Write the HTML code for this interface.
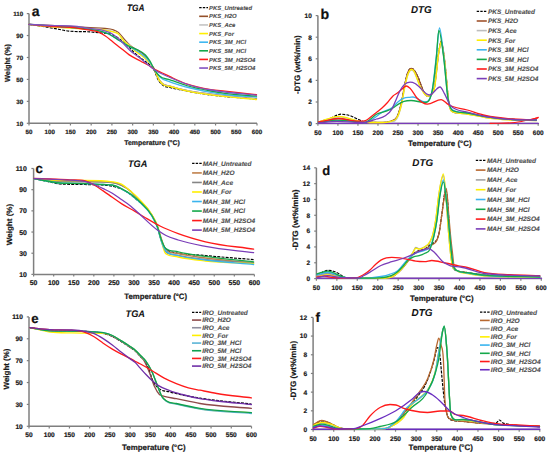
<!DOCTYPE html><html><head><meta charset="utf-8"><style>html,body{margin:0;padding:0;background:#fff;width:550px;height:455px;overflow:hidden}svg{display:block}text{text-rendering:geometricPrecision}</style></head><body>
<svg width="550" height="455" viewBox="0 0 550 455" font-family='"Liberation Sans", sans-serif'>
<rect width="550" height="455" fill="#fff"/>
<line x1="29.00" y1="13.60" x2="29.00" y2="123.30" stroke="#7f7f7f" stroke-width="1.5"/>
<line x1="29.00" y1="123.30" x2="257.00" y2="123.30" stroke="#7f7f7f" stroke-width="1.5"/>
<line x1="26.80" y1="13.60" x2="29.00" y2="13.60" stroke="#7f7f7f" stroke-width="1.2"/>
<line x1="26.80" y1="35.54" x2="29.00" y2="35.54" stroke="#7f7f7f" stroke-width="1.2"/>
<line x1="26.80" y1="57.48" x2="29.00" y2="57.48" stroke="#7f7f7f" stroke-width="1.2"/>
<line x1="26.80" y1="79.42" x2="29.00" y2="79.42" stroke="#7f7f7f" stroke-width="1.2"/>
<line x1="26.80" y1="101.36" x2="29.00" y2="101.36" stroke="#7f7f7f" stroke-width="1.2"/>
<line x1="26.80" y1="123.30" x2="29.00" y2="123.30" stroke="#7f7f7f" stroke-width="1.2"/>
<line x1="29.00" y1="123.30" x2="29.00" y2="125.50" stroke="#7f7f7f" stroke-width="1.2"/>
<line x1="49.73" y1="123.30" x2="49.73" y2="125.50" stroke="#7f7f7f" stroke-width="1.2"/>
<line x1="70.45" y1="123.30" x2="70.45" y2="125.50" stroke="#7f7f7f" stroke-width="1.2"/>
<line x1="91.18" y1="123.30" x2="91.18" y2="125.50" stroke="#7f7f7f" stroke-width="1.2"/>
<line x1="111.91" y1="123.30" x2="111.91" y2="125.50" stroke="#7f7f7f" stroke-width="1.2"/>
<line x1="132.64" y1="123.30" x2="132.64" y2="125.50" stroke="#7f7f7f" stroke-width="1.2"/>
<line x1="153.36" y1="123.30" x2="153.36" y2="125.50" stroke="#7f7f7f" stroke-width="1.2"/>
<line x1="174.09" y1="123.30" x2="174.09" y2="125.50" stroke="#7f7f7f" stroke-width="1.2"/>
<line x1="194.82" y1="123.30" x2="194.82" y2="125.50" stroke="#7f7f7f" stroke-width="1.2"/>
<line x1="215.55" y1="123.30" x2="215.55" y2="125.50" stroke="#7f7f7f" stroke-width="1.2"/>
<line x1="236.27" y1="123.30" x2="236.27" y2="125.50" stroke="#7f7f7f" stroke-width="1.2"/>
<line x1="257.00" y1="123.30" x2="257.00" y2="125.50" stroke="#7f7f7f" stroke-width="1.2"/>
<text x="23.20" y="15.83" font-size="6.2" font-weight="bold" font-style="normal" text-anchor="end" fill="#1a1a1a" stroke="#1a1a1a" stroke-width="0.2">110</text>
<text x="23.20" y="37.77" font-size="6.2" font-weight="bold" font-style="normal" text-anchor="end" fill="#1a1a1a" stroke="#1a1a1a" stroke-width="0.2">90</text>
<text x="23.20" y="59.71" font-size="6.2" font-weight="bold" font-style="normal" text-anchor="end" fill="#1a1a1a" stroke="#1a1a1a" stroke-width="0.2">70</text>
<text x="23.20" y="81.65" font-size="6.2" font-weight="bold" font-style="normal" text-anchor="end" fill="#1a1a1a" stroke="#1a1a1a" stroke-width="0.2">50</text>
<text x="23.20" y="103.59" font-size="6.2" font-weight="bold" font-style="normal" text-anchor="end" fill="#1a1a1a" stroke="#1a1a1a" stroke-width="0.2">30</text>
<text x="23.20" y="125.53" font-size="6.2" font-weight="bold" font-style="normal" text-anchor="end" fill="#1a1a1a" stroke="#1a1a1a" stroke-width="0.2">10</text>
<text x="29.00" y="133.83" font-size="6.2" font-weight="bold" font-style="normal" text-anchor="middle" fill="#1a1a1a" stroke="#1a1a1a" stroke-width="0.2">50</text>
<text x="49.73" y="133.83" font-size="6.2" font-weight="bold" font-style="normal" text-anchor="middle" fill="#1a1a1a" stroke="#1a1a1a" stroke-width="0.2">100</text>
<text x="70.45" y="133.83" font-size="6.2" font-weight="bold" font-style="normal" text-anchor="middle" fill="#1a1a1a" stroke="#1a1a1a" stroke-width="0.2">150</text>
<text x="91.18" y="133.83" font-size="6.2" font-weight="bold" font-style="normal" text-anchor="middle" fill="#1a1a1a" stroke="#1a1a1a" stroke-width="0.2">200</text>
<text x="111.91" y="133.83" font-size="6.2" font-weight="bold" font-style="normal" text-anchor="middle" fill="#1a1a1a" stroke="#1a1a1a" stroke-width="0.2">250</text>
<text x="132.64" y="133.83" font-size="6.2" font-weight="bold" font-style="normal" text-anchor="middle" fill="#1a1a1a" stroke="#1a1a1a" stroke-width="0.2">300</text>
<text x="153.36" y="133.83" font-size="6.2" font-weight="bold" font-style="normal" text-anchor="middle" fill="#1a1a1a" stroke="#1a1a1a" stroke-width="0.2">350</text>
<text x="174.09" y="133.83" font-size="6.2" font-weight="bold" font-style="normal" text-anchor="middle" fill="#1a1a1a" stroke="#1a1a1a" stroke-width="0.2">400</text>
<text x="194.82" y="133.83" font-size="6.2" font-weight="bold" font-style="normal" text-anchor="middle" fill="#1a1a1a" stroke="#1a1a1a" stroke-width="0.2">450</text>
<text x="215.55" y="133.83" font-size="6.2" font-weight="bold" font-style="normal" text-anchor="middle" fill="#1a1a1a" stroke="#1a1a1a" stroke-width="0.2">500</text>
<text x="236.27" y="133.83" font-size="6.2" font-weight="bold" font-style="normal" text-anchor="middle" fill="#1a1a1a" stroke="#1a1a1a" stroke-width="0.2">550</text>
<text x="257.00" y="133.83" font-size="6.2" font-weight="bold" font-style="normal" text-anchor="middle" fill="#1a1a1a" stroke="#1a1a1a" stroke-width="0.2">600</text>
<text x="9.90" y="63.00" font-size="7.4" font-weight="bold" font-style="normal" text-anchor="middle" fill="#1a1a1a" stroke="#1a1a1a" stroke-width="0.2" transform="rotate(-90 9.90 63.00)">Weight (%)</text>
<text x="152.00" y="145.30" font-size="6.9" font-weight="bold" font-style="normal" text-anchor="middle" fill="#1a1a1a" stroke="#1a1a1a" stroke-width="0.2">Temperature (°C)</text>
<text x="135.65" y="11.30" font-size="9.3" font-weight="bold" font-style="italic" text-anchor="middle" fill="#111" stroke="#111" stroke-width="0.05" textLength="17.5" lengthAdjust="spacingAndGlyphs">TGA</text>
<text x="31.80" y="15.80" font-size="14" font-weight="bold" font-style="normal" text-anchor="start" fill="#111" stroke="#111" stroke-width="0.2">a</text>
<line x1="199.20" y1="7.70" x2="208.00" y2="7.70" stroke="#000" stroke-width="1.3" stroke-dasharray="2.4 1.2"/>
<text x="209.10" y="9.82" font-size="5.9" font-weight="bold" font-style="italic" text-anchor="start" fill="#4d4d4d" stroke="#4d4d4d" stroke-width="0.1">PKS_Untreated</text>
<line x1="199.20" y1="16.32" x2="208.00" y2="16.32" stroke="#94502a" stroke-width="1.6"/>
<text x="209.10" y="18.44" font-size="5.9" font-weight="bold" font-style="italic" text-anchor="start" fill="#4d4d4d" stroke="#4d4d4d" stroke-width="0.1">PKS_H2O</text>
<line x1="199.20" y1="24.94" x2="208.00" y2="24.94" stroke="#c4c4c4" stroke-width="1.6"/>
<text x="209.10" y="27.06" font-size="5.9" font-weight="bold" font-style="italic" text-anchor="start" fill="#4d4d4d" stroke="#4d4d4d" stroke-width="0.1">PKS_Ace</text>
<line x1="199.20" y1="33.56" x2="208.00" y2="33.56" stroke="#ffef00" stroke-width="1.6"/>
<text x="209.10" y="35.68" font-size="5.9" font-weight="bold" font-style="italic" text-anchor="start" fill="#4d4d4d" stroke="#4d4d4d" stroke-width="0.1">PKS_For</text>
<line x1="199.20" y1="42.18" x2="208.00" y2="42.18" stroke="#40b8f0" stroke-width="1.6"/>
<text x="209.10" y="44.30" font-size="5.9" font-weight="bold" font-style="italic" text-anchor="start" fill="#4d4d4d" stroke="#4d4d4d" stroke-width="0.1">PKS_3M_HCl</text>
<line x1="199.20" y1="50.80" x2="208.00" y2="50.80" stroke="#14a84a" stroke-width="1.6"/>
<text x="209.10" y="52.92" font-size="5.9" font-weight="bold" font-style="italic" text-anchor="start" fill="#4d4d4d" stroke="#4d4d4d" stroke-width="0.1">PKS_5M_HCl</text>
<line x1="199.20" y1="59.42" x2="208.00" y2="59.42" stroke="#ff1a1a" stroke-width="1.6"/>
<text x="209.10" y="61.54" font-size="5.9" font-weight="bold" font-style="italic" text-anchor="start" fill="#4d4d4d" stroke="#4d4d4d" stroke-width="0.1">PKS_3M_H2SO4</text>
<line x1="199.20" y1="68.04" x2="208.00" y2="68.04" stroke="#8050c0" stroke-width="1.6"/>
<text x="209.10" y="70.16" font-size="5.9" font-weight="bold" font-style="italic" text-anchor="start" fill="#4d4d4d" stroke="#4d4d4d" stroke-width="0.1">PKS_5M_H2SO4</text>
<path d="M29.00 24.40 C32.67 24.93 36.33 25.43 40.00 26.00 C44.17 26.65 48.33 27.37 52.50 28.10 C57.97 29.05 63.43 30.48 68.90 31.10 C75.93 31.90 82.97 31.33 90.00 31.90 C93.00 32.14 96.00 32.45 99.00 32.80 C103.47 33.32 107.93 32.80 112.40 34.70 C114.90 35.76 117.40 37.39 119.90 39.20 C123.27 41.64 126.63 44.75 130.00 48.20 C131.03 49.26 132.07 50.45 133.10 51.50 C136.67 55.11 140.23 57.52 143.80 60.40 C146.37 62.48 148.93 63.14 151.50 66.50 C152.53 67.85 153.57 69.15 154.60 71.20 C155.63 73.25 156.67 76.72 157.70 78.80 C159.73 82.89 161.77 84.35 163.80 85.80 C165.87 87.28 167.93 86.97 170.00 87.50 C175.47 88.91 180.93 89.94 186.40 91.00 C194.57 92.58 202.73 93.87 210.90 95.00 C226.10 97.10 241.30 97.80 256.50 99.20" fill="none" stroke="#000" stroke-width="1.2" stroke-linejoin="round" stroke-linecap="butt" stroke-dasharray="3 1.2"/>
<path d="M29.00 24.40 C39.33 24.93 49.67 25.46 60.00 26.00 C70.00 26.52 80.00 27.07 90.00 27.60 C95.00 27.87 100.00 27.81 105.00 28.40 C107.47 28.69 109.93 28.65 112.40 29.50 C114.40 30.19 116.40 30.82 118.40 32.50 C120.13 33.96 121.87 36.49 123.60 38.40 C125.73 40.75 127.87 43.32 130.00 45.20 C132.07 47.03 134.13 48.16 136.20 49.60 C139.27 51.73 142.33 52.19 145.40 55.80 C147.43 58.19 149.47 61.88 151.50 65.00 C152.53 66.59 153.57 67.75 154.60 69.80 C155.63 71.85 156.67 75.25 157.70 77.30 C159.23 80.35 160.77 82.02 162.30 83.50 C164.87 85.98 167.43 85.21 170.00 86.00 C175.47 87.69 180.93 89.27 186.40 90.50 C194.57 92.34 202.73 93.12 210.90 94.20 C226.10 96.22 241.30 97.20 256.50 98.70" fill="none" stroke="#94502a" stroke-width="1.3" stroke-linejoin="round" stroke-linecap="round"/>
<path d="M29.00 24.40 C34.13 24.93 39.27 25.52 44.40 26.00 C55.30 27.02 66.20 27.61 77.10 28.30 C86.40 28.89 95.70 28.30 105.00 29.90 C107.47 30.32 109.93 30.65 112.40 31.40 C114.40 32.00 116.40 31.98 118.40 33.70 C120.13 35.19 121.87 38.42 123.60 40.30 C125.73 42.62 127.87 43.81 130.00 45.80 C131.03 46.76 132.07 47.85 133.10 48.80 C136.67 52.09 140.23 53.70 143.80 57.00 C146.37 59.37 148.93 61.40 151.50 65.00 C152.53 66.45 153.57 67.92 154.60 69.80 C156.13 72.59 157.67 77.53 159.20 80.00 C160.73 82.47 162.27 83.55 163.80 84.60 C165.87 86.01 167.93 85.66 170.00 86.20 C175.47 87.62 180.93 89.28 186.40 90.50 C194.57 92.32 202.73 93.34 210.90 94.50 C226.10 96.66 241.30 97.63 256.50 99.20" fill="none" stroke="#c4c4c4" stroke-width="1.3" stroke-linejoin="round" stroke-linecap="round"/>
<path d="M29.00 24.40 C34.13 25.00 39.27 25.67 44.40 26.20 C55.30 27.32 66.20 27.89 77.10 28.60 C86.40 29.20 95.70 28.60 105.00 30.20 C107.47 30.62 109.93 30.95 112.40 31.70 C114.40 32.30 116.40 32.26 118.40 34.00 C120.13 35.50 121.87 38.80 123.60 40.70 C125.73 43.04 127.87 44.21 130.00 46.20 C131.03 47.16 132.07 48.25 133.10 49.20 C136.67 52.48 140.23 54.10 143.80 57.30 C146.37 59.61 148.93 61.43 151.50 65.00 C152.53 66.44 153.57 67.89 154.60 69.80 C156.13 72.64 157.67 77.87 159.20 80.40 C160.73 82.93 162.27 83.96 163.80 85.00 C165.87 86.40 167.93 85.99 170.00 86.50 C175.47 87.85 180.93 89.58 186.40 90.80 C194.57 92.62 202.73 93.64 210.90 94.80 C226.10 96.96 241.30 97.93 256.50 99.50" fill="none" stroke="#ffef00" stroke-width="1.3" stroke-linejoin="round" stroke-linecap="round"/>
<path d="M29.00 24.40 C39.33 25.10 49.67 25.63 60.00 26.50 C70.00 27.34 80.00 28.06 90.00 29.50 C93.73 30.04 97.47 30.25 101.20 31.30 C103.70 32.00 106.20 32.84 108.70 34.00 C112.43 35.73 116.17 38.62 119.90 40.90 C123.27 42.95 126.63 44.97 130.00 47.00 C133.60 49.17 137.20 50.71 140.80 53.50 C143.37 55.49 145.93 57.18 148.50 60.40 C150.53 62.95 152.57 66.89 154.60 69.80 C156.40 72.38 158.20 75.13 160.00 77.00 C163.33 80.46 166.67 80.49 170.00 81.90 C175.47 84.21 180.93 85.51 186.40 87.00 C194.57 89.23 202.73 90.81 210.90 92.30 C215.60 93.16 220.30 93.96 225.00 94.60 C235.50 96.04 246.00 96.27 256.50 97.10" fill="none" stroke="#40b8f0" stroke-width="1.3" stroke-linejoin="round" stroke-linecap="round"/>
<path d="M29.00 24.40 C39.33 25.10 49.67 25.63 60.00 26.50 C70.00 27.34 80.00 28.06 90.00 29.50 C93.73 30.04 97.47 30.25 101.20 31.30 C103.70 32.00 106.20 32.86 108.70 34.00 C112.43 35.70 116.17 38.47 119.90 40.70 C123.27 42.71 126.63 45.07 130.00 46.70 C132.57 47.95 135.13 48.42 137.70 49.80 C140.27 51.18 142.83 52.19 145.40 55.00 C146.93 56.68 148.47 58.73 150.00 61.20 C151.53 63.67 153.07 67.37 154.60 69.80 C156.13 72.23 157.67 74.23 159.20 75.80 C162.80 79.49 166.40 78.50 170.00 79.80 C175.47 81.78 180.93 83.87 186.40 85.50 C194.57 87.94 202.73 89.48 210.90 91.00 C215.60 91.87 220.30 92.64 225.00 93.30 C235.50 94.77 246.00 95.17 256.50 96.10" fill="none" stroke="#14a84a" stroke-width="1.3" stroke-linejoin="round" stroke-linecap="round"/>
<path d="M29.00 24.40 C36.00 25.03 43.00 25.74 50.00 26.30 C59.03 27.02 68.07 26.91 77.10 28.10 C81.40 28.67 85.70 29.40 90.00 30.20 C92.50 30.67 95.00 30.77 97.50 31.70 C100.00 32.63 102.50 34.17 105.00 35.80 C107.47 37.41 109.93 39.48 112.40 41.40 C114.90 43.35 117.40 45.40 119.90 47.40 C122.90 49.80 125.90 52.52 128.90 54.60 C132.87 57.35 136.83 59.05 140.80 61.20 C143.37 62.59 145.93 63.76 148.50 65.30 C150.53 66.52 152.57 68.12 154.60 69.30 C157.17 70.78 159.73 71.77 162.30 73.00 C164.87 74.23 167.43 75.50 170.00 76.70 C175.47 79.25 180.93 81.95 186.40 83.90 C194.57 86.81 202.73 88.32 210.90 89.60 C215.60 90.34 220.30 90.67 225.00 91.20 C235.50 92.37 246.00 93.47 256.50 94.60" fill="none" stroke="#ff1a1a" stroke-width="1.3" stroke-linejoin="round" stroke-linecap="round"/>
<path d="M29.00 24.40 C36.00 24.77 43.00 25.19 50.00 25.50 C59.03 25.90 68.07 25.50 77.10 26.40 C81.40 26.83 85.70 27.80 90.00 28.40 C93.73 28.92 97.47 28.87 101.20 29.80 C104.93 30.73 108.67 31.65 112.40 34.00 C114.90 35.57 117.40 37.76 119.90 40.00 C123.27 43.02 126.63 47.34 130.00 50.40 C133.60 53.67 137.20 55.94 140.80 58.80 C143.37 60.84 145.93 62.96 148.50 65.00 C150.53 66.62 152.57 68.37 154.60 69.80 C159.73 73.42 164.87 75.19 170.00 77.50 C175.47 79.96 180.93 82.17 186.40 84.00 C194.57 86.74 202.73 88.53 210.90 90.00 C215.60 90.84 220.30 91.39 225.00 92.00 C235.50 93.36 246.00 94.13 256.50 95.20" fill="none" stroke="#8050c0" stroke-width="1.3" stroke-linejoin="round" stroke-linecap="round"/>
<line x1="317.90" y1="15.60" x2="317.90" y2="123.60" stroke="#7f7f7f" stroke-width="1.5"/>
<line x1="317.90" y1="123.60" x2="538.20" y2="123.60" stroke="#7f7f7f" stroke-width="1.5"/>
<line x1="315.70" y1="15.60" x2="317.90" y2="15.60" stroke="#7f7f7f" stroke-width="1.2"/>
<line x1="315.70" y1="37.20" x2="317.90" y2="37.20" stroke="#7f7f7f" stroke-width="1.2"/>
<line x1="315.70" y1="58.80" x2="317.90" y2="58.80" stroke="#7f7f7f" stroke-width="1.2"/>
<line x1="315.70" y1="80.40" x2="317.90" y2="80.40" stroke="#7f7f7f" stroke-width="1.2"/>
<line x1="315.70" y1="102.00" x2="317.90" y2="102.00" stroke="#7f7f7f" stroke-width="1.2"/>
<line x1="315.70" y1="123.60" x2="317.90" y2="123.60" stroke="#7f7f7f" stroke-width="1.2"/>
<line x1="317.90" y1="123.60" x2="317.90" y2="125.80" stroke="#7f7f7f" stroke-width="1.2"/>
<line x1="337.93" y1="123.60" x2="337.93" y2="125.80" stroke="#7f7f7f" stroke-width="1.2"/>
<line x1="357.95" y1="123.60" x2="357.95" y2="125.80" stroke="#7f7f7f" stroke-width="1.2"/>
<line x1="377.98" y1="123.60" x2="377.98" y2="125.80" stroke="#7f7f7f" stroke-width="1.2"/>
<line x1="398.01" y1="123.60" x2="398.01" y2="125.80" stroke="#7f7f7f" stroke-width="1.2"/>
<line x1="418.04" y1="123.60" x2="418.04" y2="125.80" stroke="#7f7f7f" stroke-width="1.2"/>
<line x1="438.06" y1="123.60" x2="438.06" y2="125.80" stroke="#7f7f7f" stroke-width="1.2"/>
<line x1="458.09" y1="123.60" x2="458.09" y2="125.80" stroke="#7f7f7f" stroke-width="1.2"/>
<line x1="478.12" y1="123.60" x2="478.12" y2="125.80" stroke="#7f7f7f" stroke-width="1.2"/>
<line x1="498.15" y1="123.60" x2="498.15" y2="125.80" stroke="#7f7f7f" stroke-width="1.2"/>
<line x1="518.17" y1="123.60" x2="518.17" y2="125.80" stroke="#7f7f7f" stroke-width="1.2"/>
<line x1="538.20" y1="123.60" x2="538.20" y2="125.80" stroke="#7f7f7f" stroke-width="1.2"/>
<text x="311.80" y="17.94" font-size="6.5" font-weight="bold" font-style="normal" text-anchor="end" fill="#1a1a1a" stroke="#1a1a1a" stroke-width="0.2">10</text>
<text x="311.80" y="39.54" font-size="6.5" font-weight="bold" font-style="normal" text-anchor="end" fill="#1a1a1a" stroke="#1a1a1a" stroke-width="0.2">8</text>
<text x="311.80" y="61.14" font-size="6.5" font-weight="bold" font-style="normal" text-anchor="end" fill="#1a1a1a" stroke="#1a1a1a" stroke-width="0.2">6</text>
<text x="311.80" y="82.74" font-size="6.5" font-weight="bold" font-style="normal" text-anchor="end" fill="#1a1a1a" stroke="#1a1a1a" stroke-width="0.2">4</text>
<text x="311.80" y="104.34" font-size="6.5" font-weight="bold" font-style="normal" text-anchor="end" fill="#1a1a1a" stroke="#1a1a1a" stroke-width="0.2">2</text>
<text x="311.80" y="125.94" font-size="6.5" font-weight="bold" font-style="normal" text-anchor="end" fill="#1a1a1a" stroke="#1a1a1a" stroke-width="0.2">0</text>
<text x="317.90" y="135.34" font-size="6.5" font-weight="bold" font-style="normal" text-anchor="middle" fill="#1a1a1a" stroke="#1a1a1a" stroke-width="0.2">50</text>
<text x="337.93" y="135.34" font-size="6.5" font-weight="bold" font-style="normal" text-anchor="middle" fill="#1a1a1a" stroke="#1a1a1a" stroke-width="0.2">100</text>
<text x="357.95" y="135.34" font-size="6.5" font-weight="bold" font-style="normal" text-anchor="middle" fill="#1a1a1a" stroke="#1a1a1a" stroke-width="0.2">150</text>
<text x="377.98" y="135.34" font-size="6.5" font-weight="bold" font-style="normal" text-anchor="middle" fill="#1a1a1a" stroke="#1a1a1a" stroke-width="0.2">200</text>
<text x="398.01" y="135.34" font-size="6.5" font-weight="bold" font-style="normal" text-anchor="middle" fill="#1a1a1a" stroke="#1a1a1a" stroke-width="0.2">250</text>
<text x="418.04" y="135.34" font-size="6.5" font-weight="bold" font-style="normal" text-anchor="middle" fill="#1a1a1a" stroke="#1a1a1a" stroke-width="0.2">300</text>
<text x="438.06" y="135.34" font-size="6.5" font-weight="bold" font-style="normal" text-anchor="middle" fill="#1a1a1a" stroke="#1a1a1a" stroke-width="0.2">350</text>
<text x="458.09" y="135.34" font-size="6.5" font-weight="bold" font-style="normal" text-anchor="middle" fill="#1a1a1a" stroke="#1a1a1a" stroke-width="0.2">400</text>
<text x="478.12" y="135.34" font-size="6.5" font-weight="bold" font-style="normal" text-anchor="middle" fill="#1a1a1a" stroke="#1a1a1a" stroke-width="0.2">450</text>
<text x="498.15" y="135.34" font-size="6.5" font-weight="bold" font-style="normal" text-anchor="middle" fill="#1a1a1a" stroke="#1a1a1a" stroke-width="0.2">500</text>
<text x="518.17" y="135.34" font-size="6.5" font-weight="bold" font-style="normal" text-anchor="middle" fill="#1a1a1a" stroke="#1a1a1a" stroke-width="0.2">550</text>
<text x="538.20" y="135.34" font-size="6.5" font-weight="bold" font-style="normal" text-anchor="middle" fill="#1a1a1a" stroke="#1a1a1a" stroke-width="0.2">600</text>
<text x="299.90" y="64.70" font-size="7.9" font-weight="bold" font-style="normal" text-anchor="middle" fill="#1a1a1a" stroke="#1a1a1a" stroke-width="0.2" transform="rotate(-90 299.90 64.70)" textLength="58.7" lengthAdjust="spacingAndGlyphs">-DTG (wt%/min)</text>
<text x="439.80" y="146.10" font-size="7.9" font-weight="bold" font-style="normal" text-anchor="middle" fill="#1a1a1a" stroke="#1a1a1a" stroke-width="0.2">Temperature (°C)</text>
<text x="421.30" y="12.80" font-size="10" font-weight="bold" font-style="italic" text-anchor="middle" fill="#111" stroke="#111" stroke-width="0.05" textLength="20.6" lengthAdjust="spacingAndGlyphs">DTG</text>
<text x="320.50" y="18.90" font-size="14.2" font-weight="bold" font-style="normal" text-anchor="start" fill="#111" stroke="#111" stroke-width="0.2">b</text>
<line x1="476.70" y1="11.40" x2="486.80" y2="11.40" stroke="#000" stroke-width="1.3" stroke-dasharray="2.4 1.2"/>
<text x="488.00" y="13.72" font-size="6.45" font-weight="bold" font-style="italic" text-anchor="start" fill="#4d4d4d" stroke="#4d4d4d" stroke-width="0.1">PKS_Untreated</text>
<line x1="476.70" y1="21.00" x2="486.80" y2="21.00" stroke="#a0522d" stroke-width="1.6"/>
<text x="488.00" y="23.32" font-size="6.45" font-weight="bold" font-style="italic" text-anchor="start" fill="#4d4d4d" stroke="#4d4d4d" stroke-width="0.1">PKS_H2O</text>
<line x1="476.70" y1="30.60" x2="486.80" y2="30.60" stroke="#bdbdbd" stroke-width="1.6"/>
<text x="488.00" y="32.92" font-size="6.45" font-weight="bold" font-style="italic" text-anchor="start" fill="#4d4d4d" stroke="#4d4d4d" stroke-width="0.1">PKS_Ace</text>
<line x1="476.70" y1="40.20" x2="486.80" y2="40.20" stroke="#ffef00" stroke-width="1.6"/>
<text x="488.00" y="42.52" font-size="6.45" font-weight="bold" font-style="italic" text-anchor="start" fill="#4d4d4d" stroke="#4d4d4d" stroke-width="0.1">PKS_For</text>
<line x1="476.70" y1="49.80" x2="486.80" y2="49.80" stroke="#3ab4ee" stroke-width="1.6"/>
<text x="488.00" y="52.12" font-size="6.45" font-weight="bold" font-style="italic" text-anchor="start" fill="#4d4d4d" stroke="#4d4d4d" stroke-width="0.1">PKS_3M_HCl</text>
<line x1="476.70" y1="59.40" x2="486.80" y2="59.40" stroke="#14a84a" stroke-width="1.6"/>
<text x="488.00" y="61.72" font-size="6.45" font-weight="bold" font-style="italic" text-anchor="start" fill="#4d4d4d" stroke="#4d4d4d" stroke-width="0.1">PKS_5M_HCl</text>
<line x1="476.70" y1="69.00" x2="486.80" y2="69.00" stroke="#ff1a1a" stroke-width="1.6"/>
<text x="488.00" y="71.32" font-size="6.45" font-weight="bold" font-style="italic" text-anchor="start" fill="#4d4d4d" stroke="#4d4d4d" stroke-width="0.1">PKS_3M_H2SO4</text>
<line x1="476.70" y1="78.60" x2="486.80" y2="78.60" stroke="#7a3db8" stroke-width="1.6"/>
<text x="488.00" y="80.92" font-size="6.45" font-weight="bold" font-style="italic" text-anchor="start" fill="#4d4d4d" stroke="#4d4d4d" stroke-width="0.1">PKS_5M_H2SO4</text>
<path d="M318.50 123.40 C391.80 123.40 465.10 123.40 538.40 123.40" fill="none" stroke="#7a3db8" stroke-width="1.4" stroke-linejoin="round" stroke-linecap="round"/>
<path d="M490.00 123.40 C498.33 123.10 506.67 123.40 515.00 122.50 C522.67 121.67 530.33 119.37 538.00 117.80" fill="none" stroke="#ff1a1a" stroke-width="1.2" stroke-linejoin="round" stroke-linecap="round"/>
<path d="M318.50 122.00 C322.00 121.00 325.50 120.19 329.00 119.00 C333.00 117.64 337.00 114.20 341.00 114.20 C344.33 114.20 347.67 114.84 351.00 116.00 C353.53 116.88 356.07 118.54 358.60 119.60 C360.73 120.50 362.87 121.79 365.00 122.00 C370.00 122.50 375.00 122.50 380.00 122.50 C383.67 122.50 387.33 122.50 391.00 121.00 C393.50 119.98 396.00 120.84 398.50 113.50 C399.60 110.27 400.70 106.24 401.80 101.00 C402.70 96.72 403.60 90.39 404.50 86.00 C405.67 80.31 406.83 74.90 408.00 72.00 C409.10 69.26 410.20 68.50 411.30 68.50 C411.87 68.50 412.43 68.63 413.00 69.00 C414.33 69.87 415.67 72.61 417.00 75.00 C419.67 79.78 422.33 90.60 425.00 94.00 C425.77 94.98 426.53 96.20 427.30 96.20 C429.53 96.20 431.77 96.20 434.00 89.00 C435.60 83.84 437.20 60.56 438.80 52.00 C439.60 47.72 440.40 42.00 441.20 42.00 C442.33 42.00 443.47 53.06 444.60 61.50 C446.07 72.42 447.53 95.85 449.00 104.00 C450.23 110.85 451.47 111.34 452.70 111.80 C457.57 113.60 462.43 112.87 467.30 113.60 C473.37 114.50 479.43 116.01 485.50 116.90 C494.57 118.23 503.63 118.99 512.70 119.50 C520.60 119.94 528.50 119.83 536.40 120.00" fill="none" stroke="#000" stroke-width="1.2" stroke-linejoin="round" stroke-linecap="butt" stroke-dasharray="3 1.2"/>
<path d="M318.50 122.00 C325.00 120.83 331.50 118.50 338.00 118.50 C343.00 118.50 348.00 119.78 353.00 120.50 C356.33 120.98 359.67 121.71 363.00 122.00 C368.67 122.50 374.33 122.50 380.00 122.50 C383.67 122.50 387.33 122.50 391.00 121.00 C393.50 119.98 396.00 120.84 398.50 113.50 C399.60 110.27 400.70 106.24 401.80 101.00 C402.70 96.72 403.60 90.39 404.50 86.00 C405.67 80.31 406.83 74.90 408.00 72.00 C409.10 69.26 410.20 68.50 411.30 68.50 C411.87 68.50 412.43 68.63 413.00 69.00 C414.33 69.87 415.67 72.61 417.00 75.00 C419.67 79.78 422.33 90.60 425.00 94.00 C425.77 94.98 426.53 96.20 427.30 96.20 C429.53 96.20 431.77 96.20 434.00 89.00 C435.60 83.84 437.20 61.00 438.80 52.00 C439.60 47.50 440.40 41.00 441.20 41.00 C442.33 41.00 443.47 51.49 444.60 60.00 C446.07 71.02 447.53 95.62 449.00 104.00 C450.23 111.05 451.47 111.34 452.70 111.80 C457.57 113.60 462.43 112.87 467.30 113.60 C473.37 114.50 479.43 116.01 485.50 116.90 C494.57 118.23 503.63 118.99 512.70 119.50 C520.60 119.94 528.50 119.83 536.40 120.00" fill="none" stroke="#a0522d" stroke-width="1.3" stroke-linejoin="round" stroke-linecap="round"/>
<path d="M318.50 122.00 C325.33 120.27 332.17 116.80 339.00 116.80 C343.73 116.80 348.47 118.76 353.20 119.80 C356.47 120.52 359.73 121.71 363.00 122.00 C368.67 122.50 374.33 122.50 380.00 122.50 C383.67 122.50 387.33 122.50 391.00 121.90 C393.50 121.49 396.00 121.90 398.50 115.20 C399.60 112.25 400.70 108.70 401.80 103.60 C402.70 99.43 403.60 92.99 404.50 88.60 C405.67 82.91 406.83 77.68 408.00 74.60 C409.17 71.52 410.33 70.10 411.50 70.10 C412.00 70.10 412.50 70.27 413.00 70.60 C415.47 72.20 417.93 82.66 420.40 87.00 C422.70 91.05 425.00 96.20 427.30 96.20 C429.60 96.20 431.90 96.20 434.20 89.20 C435.73 84.53 437.27 61.34 438.80 53.00 C439.60 48.65 440.40 43.00 441.20 43.00 C442.33 43.00 443.47 53.86 444.60 62.00 C446.13 73.02 447.67 97.07 449.20 105.00 C450.37 111.04 451.53 111.52 452.70 112.00 C457.57 114.00 462.43 113.21 467.30 114.00 C473.37 114.98 479.43 116.58 485.50 117.50 C494.57 118.88 503.63 119.51 512.70 120.00 C520.60 120.43 528.50 120.33 536.40 120.50" fill="none" stroke="#bdbdbd" stroke-width="1.3" stroke-linejoin="round" stroke-linecap="round"/>
<path d="M318.50 122.00 C325.33 120.13 332.17 116.40 339.00 116.40 C343.73 116.40 348.47 118.48 353.20 119.60 C356.47 120.37 359.73 121.71 363.00 122.00 C368.67 122.50 374.33 122.50 380.00 122.50 C383.67 122.50 387.33 122.50 391.00 121.30 C393.50 120.48 396.00 121.30 398.50 114.60 C399.60 111.65 400.70 108.10 401.80 103.00 C402.70 98.83 403.60 92.39 404.50 88.00 C405.67 82.31 406.83 77.08 408.00 74.00 C409.17 70.92 410.33 69.50 411.50 69.50 C412.00 69.50 412.50 69.67 413.00 70.00 C415.47 71.64 417.93 82.56 420.40 87.00 C422.70 91.14 425.00 96.20 427.30 96.20 C429.60 96.20 431.90 96.20 434.20 89.20 C435.73 84.53 437.27 60.84 438.80 52.30 C439.60 47.84 440.40 42.00 441.20 42.00 C442.33 42.00 443.47 53.17 444.60 61.50 C446.13 72.78 447.67 97.43 449.20 105.40 C450.37 111.46 451.53 111.52 452.70 112.00 C457.57 114.00 462.43 113.21 467.30 114.00 C473.37 114.98 479.43 116.58 485.50 117.50 C494.57 118.88 503.63 119.51 512.70 120.00 C520.60 120.43 528.50 120.33 536.40 120.50" fill="none" stroke="#ffef00" stroke-width="1.3" stroke-linejoin="round" stroke-linecap="round"/>
<path d="M318.50 122.50 C324.67 121.83 330.83 120.50 337.00 120.50 C343.00 120.50 349.00 121.00 355.00 121.50 C358.33 121.78 361.67 122.50 365.00 122.50 C367.00 122.50 369.00 121.03 371.00 120.00 C374.67 118.12 378.33 114.58 382.00 112.40 C385.67 110.22 389.33 109.96 393.00 106.90 C394.83 105.37 396.67 102.87 398.50 101.40 C400.33 99.93 402.17 98.79 404.00 98.10 C406.00 97.35 408.00 97.52 410.00 97.30 C411.00 97.19 412.00 97.00 413.00 97.00 C417.00 97.00 421.00 102.00 425.00 102.00 C427.33 102.00 429.67 102.00 432.00 91.50 C433.50 84.75 435.00 67.50 436.50 54.60 C437.50 46.00 438.50 28.00 439.50 28.00 C440.83 28.00 442.17 43.78 443.50 54.60 C445.00 66.77 446.50 89.23 448.00 98.50 C449.57 108.18 451.13 109.03 452.70 110.00 C457.57 113.00 462.43 112.03 467.30 113.00 C473.37 114.21 479.43 115.53 485.50 116.50 C494.57 117.95 503.63 118.93 512.70 119.50 C520.60 119.99 528.50 119.83 536.40 120.00" fill="none" stroke="#3ab4ee" stroke-width="1.3" stroke-linejoin="round" stroke-linecap="round"/>
<path d="M318.50 122.50 C324.67 121.73 330.83 120.20 337.00 120.20 C343.00 120.20 349.00 120.96 355.00 121.50 C358.33 121.80 361.67 122.50 365.00 122.50 C366.67 122.50 368.33 120.64 370.00 119.50 C372.17 118.01 374.33 115.65 376.50 114.30 C380.17 112.01 383.83 112.30 387.50 110.70 C389.33 109.90 391.17 109.10 393.00 108.00 C394.83 106.90 396.67 105.20 398.50 104.10 C400.33 103.00 402.17 102.01 404.00 101.40 C406.33 100.63 408.67 100.50 411.00 100.50 C415.67 100.50 420.33 102.50 425.00 102.50 C427.33 102.50 429.67 102.50 432.00 91.50 C433.50 84.43 435.00 71.05 436.50 56.00 C437.27 48.31 438.03 30.40 438.80 30.40 C440.37 30.40 441.93 44.27 443.50 56.00 C445.00 67.23 446.50 89.39 448.00 98.50 C449.57 108.02 451.13 109.70 452.70 110.50 C457.57 113.00 462.43 112.12 467.30 113.00 C473.37 114.10 479.43 115.53 485.50 116.50 C494.57 117.95 503.63 118.93 512.70 119.50 C520.60 119.99 528.50 119.83 536.40 120.00" fill="none" stroke="#14a84a" stroke-width="1.3" stroke-linejoin="round" stroke-linecap="round"/>
<path d="M318.50 122.00 C322.67 121.20 326.83 120.31 331.00 119.60 C333.33 119.20 335.67 118.50 338.00 118.50 C343.00 118.50 348.00 120.22 353.00 120.70 C355.33 120.92 357.67 121.20 360.00 121.20 C361.83 121.20 363.67 121.20 365.50 120.60 C367.33 120.00 369.17 118.17 371.00 116.80 C372.83 115.43 374.67 113.87 376.50 112.40 C378.33 110.93 380.17 109.65 382.00 108.00 C383.83 106.35 385.67 104.52 387.50 102.50 C389.33 100.48 391.17 97.53 393.00 95.90 C394.47 94.60 395.93 94.20 397.40 93.10 C398.87 92.00 400.33 90.48 401.80 89.30 C403.27 88.12 404.73 86.00 406.20 86.00 C407.47 86.00 408.73 87.10 410.00 88.20 C412.33 90.22 414.67 95.49 417.00 98.00 C420.43 101.70 423.87 104.20 427.30 104.20 C431.93 104.20 436.57 99.60 441.20 99.60 C443.53 99.60 445.87 103.12 448.20 104.50 C454.57 108.25 460.93 108.12 467.30 110.00 C473.37 111.79 479.43 114.09 485.50 115.50 C494.57 117.61 503.63 118.29 512.70 119.00 C518.47 119.45 524.23 119.80 530.00 119.80 C532.73 119.80 535.47 118.13 538.20 117.30" fill="none" stroke="#ff1a1a" stroke-width="1.3" stroke-linejoin="round" stroke-linecap="round"/>
<path d="M318.50 123.00 C324.67 122.43 330.83 121.30 337.00 121.30 C344.67 121.30 352.33 122.50 360.00 122.50 C361.83 122.50 363.67 122.50 365.50 122.30 C369.17 121.90 372.83 120.25 376.50 119.00 C379.43 118.00 382.37 117.85 385.30 115.70 C387.50 114.09 389.70 112.95 391.90 109.10 C393.37 106.53 394.83 102.57 396.30 99.20 C397.40 96.67 398.50 93.67 399.60 91.50 C401.07 88.60 402.53 86.46 404.00 84.90 C406.00 82.77 408.00 82.10 410.00 82.10 C411.67 82.10 413.33 82.53 415.00 83.50 C416.00 84.08 417.00 85.03 418.00 85.80 C421.87 88.79 425.73 95.00 429.60 95.00 C433.07 95.00 436.53 87.00 440.00 87.00 C441.53 87.00 443.07 91.18 444.60 93.80 C446.53 97.10 448.47 103.13 450.40 105.40 C456.03 112.00 461.67 110.19 467.30 112.00 C473.37 113.95 479.43 115.33 485.50 116.50 C494.57 118.24 503.63 118.93 512.70 119.50 C520.60 119.99 528.50 119.83 536.40 120.00" fill="none" stroke="#7a3db8" stroke-width="1.3" stroke-linejoin="round" stroke-linecap="round"/>
<line x1="33.60" y1="168.50" x2="33.60" y2="274.40" stroke="#7f7f7f" stroke-width="1.5"/>
<line x1="33.60" y1="274.40" x2="254.40" y2="274.40" stroke="#7f7f7f" stroke-width="1.5"/>
<line x1="31.40" y1="168.50" x2="33.60" y2="168.50" stroke="#7f7f7f" stroke-width="1.2"/>
<line x1="31.40" y1="189.68" x2="33.60" y2="189.68" stroke="#7f7f7f" stroke-width="1.2"/>
<line x1="31.40" y1="210.86" x2="33.60" y2="210.86" stroke="#7f7f7f" stroke-width="1.2"/>
<line x1="31.40" y1="232.04" x2="33.60" y2="232.04" stroke="#7f7f7f" stroke-width="1.2"/>
<line x1="31.40" y1="253.22" x2="33.60" y2="253.22" stroke="#7f7f7f" stroke-width="1.2"/>
<line x1="31.40" y1="274.40" x2="33.60" y2="274.40" stroke="#7f7f7f" stroke-width="1.2"/>
<line x1="33.60" y1="274.40" x2="33.60" y2="276.60" stroke="#7f7f7f" stroke-width="1.2"/>
<line x1="53.67" y1="274.40" x2="53.67" y2="276.60" stroke="#7f7f7f" stroke-width="1.2"/>
<line x1="73.75" y1="274.40" x2="73.75" y2="276.60" stroke="#7f7f7f" stroke-width="1.2"/>
<line x1="93.82" y1="274.40" x2="93.82" y2="276.60" stroke="#7f7f7f" stroke-width="1.2"/>
<line x1="113.89" y1="274.40" x2="113.89" y2="276.60" stroke="#7f7f7f" stroke-width="1.2"/>
<line x1="133.96" y1="274.40" x2="133.96" y2="276.60" stroke="#7f7f7f" stroke-width="1.2"/>
<line x1="154.04" y1="274.40" x2="154.04" y2="276.60" stroke="#7f7f7f" stroke-width="1.2"/>
<line x1="174.11" y1="274.40" x2="174.11" y2="276.60" stroke="#7f7f7f" stroke-width="1.2"/>
<line x1="194.18" y1="274.40" x2="194.18" y2="276.60" stroke="#7f7f7f" stroke-width="1.2"/>
<line x1="214.25" y1="274.40" x2="214.25" y2="276.60" stroke="#7f7f7f" stroke-width="1.2"/>
<line x1="234.33" y1="274.40" x2="234.33" y2="276.60" stroke="#7f7f7f" stroke-width="1.2"/>
<line x1="254.40" y1="274.40" x2="254.40" y2="276.60" stroke="#7f7f7f" stroke-width="1.2"/>
<text x="26.80" y="170.98" font-size="6.9" font-weight="bold" font-style="normal" text-anchor="end" fill="#1a1a1a" stroke="#1a1a1a" stroke-width="0.2">110</text>
<text x="26.80" y="192.16" font-size="6.9" font-weight="bold" font-style="normal" text-anchor="end" fill="#1a1a1a" stroke="#1a1a1a" stroke-width="0.2">90</text>
<text x="26.80" y="213.34" font-size="6.9" font-weight="bold" font-style="normal" text-anchor="end" fill="#1a1a1a" stroke="#1a1a1a" stroke-width="0.2">70</text>
<text x="26.80" y="234.52" font-size="6.9" font-weight="bold" font-style="normal" text-anchor="end" fill="#1a1a1a" stroke="#1a1a1a" stroke-width="0.2">50</text>
<text x="26.80" y="255.70" font-size="6.9" font-weight="bold" font-style="normal" text-anchor="end" fill="#1a1a1a" stroke="#1a1a1a" stroke-width="0.2">30</text>
<text x="26.80" y="276.88" font-size="6.9" font-weight="bold" font-style="normal" text-anchor="end" fill="#1a1a1a" stroke="#1a1a1a" stroke-width="0.2">10</text>
<text x="33.60" y="285.48" font-size="6.9" font-weight="bold" font-style="normal" text-anchor="middle" fill="#1a1a1a" stroke="#1a1a1a" stroke-width="0.2">50</text>
<text x="53.67" y="285.48" font-size="6.9" font-weight="bold" font-style="normal" text-anchor="middle" fill="#1a1a1a" stroke="#1a1a1a" stroke-width="0.2">100</text>
<text x="73.75" y="285.48" font-size="6.9" font-weight="bold" font-style="normal" text-anchor="middle" fill="#1a1a1a" stroke="#1a1a1a" stroke-width="0.2">150</text>
<text x="93.82" y="285.48" font-size="6.9" font-weight="bold" font-style="normal" text-anchor="middle" fill="#1a1a1a" stroke="#1a1a1a" stroke-width="0.2">200</text>
<text x="113.89" y="285.48" font-size="6.9" font-weight="bold" font-style="normal" text-anchor="middle" fill="#1a1a1a" stroke="#1a1a1a" stroke-width="0.2">250</text>
<text x="133.96" y="285.48" font-size="6.9" font-weight="bold" font-style="normal" text-anchor="middle" fill="#1a1a1a" stroke="#1a1a1a" stroke-width="0.2">300</text>
<text x="154.04" y="285.48" font-size="6.9" font-weight="bold" font-style="normal" text-anchor="middle" fill="#1a1a1a" stroke="#1a1a1a" stroke-width="0.2">350</text>
<text x="174.11" y="285.48" font-size="6.9" font-weight="bold" font-style="normal" text-anchor="middle" fill="#1a1a1a" stroke="#1a1a1a" stroke-width="0.2">400</text>
<text x="194.18" y="285.48" font-size="6.9" font-weight="bold" font-style="normal" text-anchor="middle" fill="#1a1a1a" stroke="#1a1a1a" stroke-width="0.2">450</text>
<text x="214.25" y="285.48" font-size="6.9" font-weight="bold" font-style="normal" text-anchor="middle" fill="#1a1a1a" stroke="#1a1a1a" stroke-width="0.2">500</text>
<text x="234.33" y="285.48" font-size="6.9" font-weight="bold" font-style="normal" text-anchor="middle" fill="#1a1a1a" stroke="#1a1a1a" stroke-width="0.2">550</text>
<text x="254.40" y="285.48" font-size="6.9" font-weight="bold" font-style="normal" text-anchor="middle" fill="#1a1a1a" stroke="#1a1a1a" stroke-width="0.2">600</text>
<text x="11.60" y="224.50" font-size="7.6" font-weight="bold" font-style="normal" text-anchor="middle" fill="#1a1a1a" stroke="#1a1a1a" stroke-width="0.2" transform="rotate(-90 11.60 224.50)" textLength="41.3" lengthAdjust="spacingAndGlyphs">Weight (%)</text>
<text x="155.70" y="299.30" font-size="7.8" font-weight="bold" font-style="normal" text-anchor="middle" fill="#1a1a1a" stroke="#1a1a1a" stroke-width="0.2">Temperature (°C)</text>
<text x="137.65" y="166.60" font-size="9.6" font-weight="bold" font-style="italic" text-anchor="middle" fill="#111" stroke="#111" stroke-width="0.05" textLength="19.3" lengthAdjust="spacingAndGlyphs">TGA</text>
<text x="35.50" y="173.30" font-size="13.3" font-weight="bold" font-style="normal" text-anchor="start" fill="#111" stroke="#111" stroke-width="0.2">c</text>
<line x1="192.10" y1="163.40" x2="201.80" y2="163.40" stroke="#000" stroke-width="1.3" stroke-dasharray="2.4 1.2"/>
<text x="202.70" y="165.74" font-size="6.5" font-weight="bold" font-style="italic" text-anchor="start" fill="#4d4d4d" stroke="#4d4d4d" stroke-width="0.1">MAH_Untreated</text>
<line x1="192.10" y1="172.93" x2="201.80" y2="172.93" stroke="#c0804a" stroke-width="1.6"/>
<text x="202.70" y="175.27" font-size="6.5" font-weight="bold" font-style="italic" text-anchor="start" fill="#4d4d4d" stroke="#4d4d4d" stroke-width="0.1">MAH_H2O</text>
<line x1="192.10" y1="182.46" x2="201.80" y2="182.46" stroke="#858585" stroke-width="1.6"/>
<text x="202.70" y="184.80" font-size="6.5" font-weight="bold" font-style="italic" text-anchor="start" fill="#4d4d4d" stroke="#4d4d4d" stroke-width="0.1">MAH_Ace</text>
<line x1="192.10" y1="191.99" x2="201.80" y2="191.99" stroke="#ffef00" stroke-width="1.6"/>
<text x="202.70" y="194.33" font-size="6.5" font-weight="bold" font-style="italic" text-anchor="start" fill="#4d4d4d" stroke="#4d4d4d" stroke-width="0.1">MAH_For</text>
<line x1="192.10" y1="201.52" x2="201.80" y2="201.52" stroke="#3ab4ee" stroke-width="1.6"/>
<text x="202.70" y="203.86" font-size="6.5" font-weight="bold" font-style="italic" text-anchor="start" fill="#4d4d4d" stroke="#4d4d4d" stroke-width="0.1">MAH_3M_HCl</text>
<line x1="192.10" y1="211.05" x2="201.80" y2="211.05" stroke="#14a84a" stroke-width="1.6"/>
<text x="202.70" y="213.39" font-size="6.5" font-weight="bold" font-style="italic" text-anchor="start" fill="#4d4d4d" stroke="#4d4d4d" stroke-width="0.1">MAH_5M_HCl</text>
<line x1="192.10" y1="220.58" x2="201.80" y2="220.58" stroke="#ff1a1a" stroke-width="1.6"/>
<text x="202.70" y="222.92" font-size="6.5" font-weight="bold" font-style="italic" text-anchor="start" fill="#4d4d4d" stroke="#4d4d4d" stroke-width="0.1">MAH_3M_H2SO4</text>
<line x1="192.10" y1="230.11" x2="201.80" y2="230.11" stroke="#7a3db8" stroke-width="1.6"/>
<text x="202.70" y="232.45" font-size="6.5" font-weight="bold" font-style="italic" text-anchor="start" fill="#4d4d4d" stroke="#4d4d4d" stroke-width="0.1">MAH_5M_H2SO4</text>
<path d="M34.00 178.60 C39.33 179.73 44.67 180.91 50.00 182.00 C53.33 182.68 56.67 183.80 60.00 184.00 C68.33 184.50 76.67 184.23 85.00 184.50 C92.57 184.75 100.13 184.50 107.70 185.50 C112.27 186.10 116.83 186.88 121.40 189.00 C124.43 190.41 127.47 192.26 130.50 194.50 C132.33 195.85 134.17 197.39 136.00 199.00 C141.27 203.62 146.53 206.28 151.80 215.50 C153.67 218.77 155.53 221.24 157.40 226.70 C158.63 230.31 159.87 236.27 161.10 239.80 C162.67 244.28 164.23 247.41 165.80 249.20 C166.87 250.42 167.93 250.61 169.00 251.00 C181.17 255.50 193.33 254.20 205.50 255.50 C221.53 257.21 237.57 258.23 253.60 259.60" fill="none" stroke="#000" stroke-width="1.2" stroke-linejoin="round" stroke-linecap="butt" stroke-dasharray="3 1.2"/>
<path d="M34.00 178.60 C42.67 179.50 51.33 180.99 60.00 181.30 C68.33 181.60 76.67 181.42 85.00 181.60 C94.10 181.80 103.20 181.60 112.30 182.50 C115.33 182.80 118.37 183.78 121.40 185.20 C124.43 186.62 127.47 188.11 130.50 191.00 C132.00 192.43 133.50 194.41 135.00 196.00 C136.67 197.76 138.33 199.24 140.00 201.00 C143.93 205.15 147.87 208.26 151.80 215.00 C153.67 218.20 155.53 221.06 157.40 226.00 C158.87 229.88 160.33 235.93 161.80 240.00 C163.37 244.35 164.93 250.00 166.50 251.00 C170.40 253.50 174.30 252.72 178.20 253.50 C187.30 255.31 196.40 256.72 205.50 258.00 C221.53 260.25 237.57 261.13 253.60 262.70" fill="none" stroke="#c0804a" stroke-width="1.3" stroke-linejoin="round" stroke-linecap="round"/>
<path d="M34.00 178.60 C42.67 179.57 51.33 181.19 60.00 181.50 C68.33 181.80 76.67 181.62 85.00 181.80 C94.10 182.00 103.20 181.80 112.30 182.70 C115.33 183.00 118.37 184.05 121.40 185.50 C124.43 186.95 127.47 188.49 130.50 191.40 C132.00 192.84 133.50 194.87 135.00 196.40 C136.67 198.10 138.33 199.33 140.00 201.00 C143.93 204.93 147.87 208.02 151.80 215.00 C153.67 218.31 155.53 220.87 157.40 226.50 C158.63 230.22 159.87 236.10 161.10 240.00 C162.67 244.96 164.23 250.67 165.80 252.00 C169.93 255.50 174.07 254.51 178.20 255.50 C187.30 257.68 196.40 258.41 205.50 259.50 C221.53 261.42 237.57 261.83 253.60 263.00" fill="none" stroke="#858585" stroke-width="1.3" stroke-linejoin="round" stroke-linecap="round"/>
<path d="M34.00 178.60 C42.67 179.23 51.33 180.50 60.00 180.50 C68.33 180.50 76.67 180.50 85.00 180.50 C94.10 180.50 103.20 180.50 112.30 181.80 C115.33 182.23 118.37 182.49 121.40 184.10 C123.80 185.37 126.20 187.56 128.60 189.50 C130.73 191.22 132.87 193.00 135.00 195.00 C136.67 196.56 138.33 198.22 140.00 200.00 C143.93 204.20 147.87 207.47 151.80 214.50 C153.67 217.84 155.53 220.22 157.40 226.00 C158.63 229.82 159.87 235.72 161.10 240.00 C162.57 245.09 164.03 252.42 165.50 253.60 C169.73 257.00 173.97 256.03 178.20 257.00 C187.30 259.09 196.40 259.97 205.50 261.00 C221.53 262.81 237.57 262.73 253.60 263.60" fill="none" stroke="#ffef00" stroke-width="1.3" stroke-linejoin="round" stroke-linecap="round"/>
<path d="M34.00 178.60 C42.67 180.07 51.33 182.38 60.00 183.00 C68.33 183.60 76.67 183.28 85.00 183.60 C91.07 183.83 97.13 184.09 103.20 184.50 C106.23 184.71 109.27 184.50 112.30 185.20 C115.33 185.90 118.37 187.43 121.40 189.00 C124.43 190.57 127.47 192.36 130.50 194.60 C132.00 195.71 133.50 196.96 135.00 198.20 C136.67 199.58 138.33 200.93 140.00 202.50 C143.93 206.22 147.87 209.07 151.80 216.00 C153.67 219.29 155.53 222.03 157.40 227.50 C158.63 231.12 159.87 236.86 161.10 240.50 C162.67 245.12 164.23 249.29 165.80 251.00 C169.93 255.50 174.07 254.26 178.20 255.50 C187.30 258.24 196.40 258.73 205.50 260.00 C221.53 262.23 237.57 263.00 253.60 264.50" fill="none" stroke="#3ab4ee" stroke-width="1.3" stroke-linejoin="round" stroke-linecap="round"/>
<path d="M34.00 178.60 C42.67 180.07 51.33 182.38 60.00 183.00 C68.33 183.60 76.67 183.28 85.00 183.60 C91.07 183.83 97.13 184.18 103.20 184.50 C106.23 184.66 109.27 184.50 112.30 185.00 C115.33 185.50 118.37 187.08 121.40 188.60 C124.43 190.12 127.47 191.87 130.50 194.10 C132.00 195.20 133.50 196.46 135.00 197.70 C136.67 199.08 138.33 200.43 140.00 202.00 C143.93 205.72 147.87 208.72 151.80 215.50 C153.67 218.72 155.53 221.48 157.40 226.70 C158.63 230.15 159.87 235.59 161.10 239.00 C162.57 243.05 164.03 246.95 165.50 248.20 C169.73 251.80 173.97 250.75 178.20 251.80 C187.30 254.05 196.40 255.05 205.50 256.40 C221.53 258.78 237.57 260.00 253.60 261.80" fill="none" stroke="#14a84a" stroke-width="1.3" stroke-linejoin="round" stroke-linecap="round"/>
<path d="M34.00 178.40 C39.33 178.60 44.67 178.79 50.00 179.00 C56.67 179.26 63.33 179.41 70.00 179.80 C75.00 180.10 80.00 179.80 85.00 180.90 C88.03 181.57 91.07 183.33 94.10 185.00 C97.13 186.67 100.17 188.85 103.20 190.90 C106.23 192.95 109.27 195.18 112.30 197.30 C115.33 199.42 118.37 201.64 121.40 203.60 C125.93 206.52 130.47 208.70 135.00 211.40 C138.33 213.38 141.67 215.52 145.00 217.50 C150.00 220.46 155.00 223.50 160.00 226.00 C166.07 229.03 172.13 231.35 178.20 233.60 C187.30 236.97 196.40 239.56 205.50 241.80 C221.53 245.75 237.57 246.67 253.60 249.10" fill="none" stroke="#ff1a1a" stroke-width="1.3" stroke-linejoin="round" stroke-linecap="round"/>
<path d="M34.00 178.60 C39.33 178.80 44.67 178.97 50.00 179.20 C56.67 179.49 63.33 179.75 70.00 180.20 C75.00 180.54 80.00 180.20 85.00 181.40 C88.03 182.13 91.07 183.30 94.10 184.50 C97.13 185.70 100.17 187.15 103.20 188.60 C106.23 190.05 109.27 191.38 112.30 193.20 C115.33 195.02 118.37 197.38 121.40 199.50 C124.43 201.62 127.47 203.45 130.50 205.90 C133.23 208.11 135.97 210.84 138.70 213.30 C144.93 218.91 151.17 225.52 157.40 230.00 C160.27 232.06 163.13 233.99 166.00 235.50 C170.07 237.65 174.13 238.67 178.20 240.00 C187.30 242.98 196.40 244.61 205.50 246.40 C221.53 249.56 237.57 250.60 253.60 252.70" fill="none" stroke="#7a3db8" stroke-width="1.3" stroke-linejoin="round" stroke-linecap="round"/>
<line x1="316.40" y1="167.80" x2="316.40" y2="278.60" stroke="#7f7f7f" stroke-width="1.5"/>
<line x1="316.40" y1="278.60" x2="541.30" y2="278.60" stroke="#7f7f7f" stroke-width="1.5"/>
<line x1="314.20" y1="167.80" x2="316.40" y2="167.80" stroke="#7f7f7f" stroke-width="1.2"/>
<line x1="314.20" y1="183.63" x2="316.40" y2="183.63" stroke="#7f7f7f" stroke-width="1.2"/>
<line x1="314.20" y1="199.46" x2="316.40" y2="199.46" stroke="#7f7f7f" stroke-width="1.2"/>
<line x1="314.20" y1="215.29" x2="316.40" y2="215.29" stroke="#7f7f7f" stroke-width="1.2"/>
<line x1="314.20" y1="231.11" x2="316.40" y2="231.11" stroke="#7f7f7f" stroke-width="1.2"/>
<line x1="314.20" y1="246.94" x2="316.40" y2="246.94" stroke="#7f7f7f" stroke-width="1.2"/>
<line x1="314.20" y1="262.77" x2="316.40" y2="262.77" stroke="#7f7f7f" stroke-width="1.2"/>
<line x1="314.20" y1="278.60" x2="316.40" y2="278.60" stroke="#7f7f7f" stroke-width="1.2"/>
<line x1="316.40" y1="278.60" x2="316.40" y2="280.80" stroke="#7f7f7f" stroke-width="1.2"/>
<line x1="336.85" y1="278.60" x2="336.85" y2="280.80" stroke="#7f7f7f" stroke-width="1.2"/>
<line x1="357.29" y1="278.60" x2="357.29" y2="280.80" stroke="#7f7f7f" stroke-width="1.2"/>
<line x1="377.74" y1="278.60" x2="377.74" y2="280.80" stroke="#7f7f7f" stroke-width="1.2"/>
<line x1="398.18" y1="278.60" x2="398.18" y2="280.80" stroke="#7f7f7f" stroke-width="1.2"/>
<line x1="418.63" y1="278.60" x2="418.63" y2="280.80" stroke="#7f7f7f" stroke-width="1.2"/>
<line x1="439.07" y1="278.60" x2="439.07" y2="280.80" stroke="#7f7f7f" stroke-width="1.2"/>
<line x1="459.52" y1="278.60" x2="459.52" y2="280.80" stroke="#7f7f7f" stroke-width="1.2"/>
<line x1="479.96" y1="278.60" x2="479.96" y2="280.80" stroke="#7f7f7f" stroke-width="1.2"/>
<line x1="500.41" y1="278.60" x2="500.41" y2="280.80" stroke="#7f7f7f" stroke-width="1.2"/>
<line x1="520.85" y1="278.60" x2="520.85" y2="280.80" stroke="#7f7f7f" stroke-width="1.2"/>
<line x1="541.30" y1="278.60" x2="541.30" y2="280.80" stroke="#7f7f7f" stroke-width="1.2"/>
<text x="310.00" y="170.14" font-size="6.5" font-weight="bold" font-style="normal" text-anchor="end" fill="#1a1a1a" stroke="#1a1a1a" stroke-width="0.2">14</text>
<text x="310.00" y="185.97" font-size="6.5" font-weight="bold" font-style="normal" text-anchor="end" fill="#1a1a1a" stroke="#1a1a1a" stroke-width="0.2">12</text>
<text x="310.00" y="201.80" font-size="6.5" font-weight="bold" font-style="normal" text-anchor="end" fill="#1a1a1a" stroke="#1a1a1a" stroke-width="0.2">10</text>
<text x="310.00" y="217.63" font-size="6.5" font-weight="bold" font-style="normal" text-anchor="end" fill="#1a1a1a" stroke="#1a1a1a" stroke-width="0.2">8</text>
<text x="310.00" y="233.45" font-size="6.5" font-weight="bold" font-style="normal" text-anchor="end" fill="#1a1a1a" stroke="#1a1a1a" stroke-width="0.2">6</text>
<text x="310.00" y="249.28" font-size="6.5" font-weight="bold" font-style="normal" text-anchor="end" fill="#1a1a1a" stroke="#1a1a1a" stroke-width="0.2">4</text>
<text x="310.00" y="265.11" font-size="6.5" font-weight="bold" font-style="normal" text-anchor="end" fill="#1a1a1a" stroke="#1a1a1a" stroke-width="0.2">2</text>
<text x="310.00" y="280.94" font-size="6.5" font-weight="bold" font-style="normal" text-anchor="end" fill="#1a1a1a" stroke="#1a1a1a" stroke-width="0.2">0</text>
<text x="316.40" y="289.94" font-size="6.5" font-weight="bold" font-style="normal" text-anchor="middle" fill="#1a1a1a" stroke="#1a1a1a" stroke-width="0.2">50</text>
<text x="336.85" y="289.94" font-size="6.5" font-weight="bold" font-style="normal" text-anchor="middle" fill="#1a1a1a" stroke="#1a1a1a" stroke-width="0.2">100</text>
<text x="357.29" y="289.94" font-size="6.5" font-weight="bold" font-style="normal" text-anchor="middle" fill="#1a1a1a" stroke="#1a1a1a" stroke-width="0.2">150</text>
<text x="377.74" y="289.94" font-size="6.5" font-weight="bold" font-style="normal" text-anchor="middle" fill="#1a1a1a" stroke="#1a1a1a" stroke-width="0.2">200</text>
<text x="398.18" y="289.94" font-size="6.5" font-weight="bold" font-style="normal" text-anchor="middle" fill="#1a1a1a" stroke="#1a1a1a" stroke-width="0.2">250</text>
<text x="418.63" y="289.94" font-size="6.5" font-weight="bold" font-style="normal" text-anchor="middle" fill="#1a1a1a" stroke="#1a1a1a" stroke-width="0.2">300</text>
<text x="439.07" y="289.94" font-size="6.5" font-weight="bold" font-style="normal" text-anchor="middle" fill="#1a1a1a" stroke="#1a1a1a" stroke-width="0.2">350</text>
<text x="459.52" y="289.94" font-size="6.5" font-weight="bold" font-style="normal" text-anchor="middle" fill="#1a1a1a" stroke="#1a1a1a" stroke-width="0.2">400</text>
<text x="479.96" y="289.94" font-size="6.5" font-weight="bold" font-style="normal" text-anchor="middle" fill="#1a1a1a" stroke="#1a1a1a" stroke-width="0.2">450</text>
<text x="500.41" y="289.94" font-size="6.5" font-weight="bold" font-style="normal" text-anchor="middle" fill="#1a1a1a" stroke="#1a1a1a" stroke-width="0.2">500</text>
<text x="520.85" y="289.94" font-size="6.5" font-weight="bold" font-style="normal" text-anchor="middle" fill="#1a1a1a" stroke="#1a1a1a" stroke-width="0.2">550</text>
<text x="541.30" y="289.94" font-size="6.5" font-weight="bold" font-style="normal" text-anchor="middle" fill="#1a1a1a" stroke="#1a1a1a" stroke-width="0.2">600</text>
<text x="298.40" y="219.90" font-size="7.9" font-weight="bold" font-style="normal" text-anchor="middle" fill="#1a1a1a" stroke="#1a1a1a" stroke-width="0.2" transform="rotate(-90 298.40 219.90)" textLength="60.6" lengthAdjust="spacingAndGlyphs">-DTG (wt%/min)</text>
<text x="441.80" y="301.10" font-size="7.9" font-weight="bold" font-style="normal" text-anchor="middle" fill="#1a1a1a" stroke="#1a1a1a" stroke-width="0.2">Temperature (°C)</text>
<text x="422.70" y="165.70" font-size="9.8" font-weight="bold" font-style="italic" text-anchor="middle" fill="#111" stroke="#111" stroke-width="0.05" textLength="20.8" lengthAdjust="spacingAndGlyphs">DTG</text>
<text x="322.20" y="174.80" font-size="13" font-weight="bold" font-style="normal" text-anchor="start" fill="#111" stroke="#111" stroke-width="0.2">d</text>
<line x1="475.80" y1="160.30" x2="485.50" y2="160.30" stroke="#000" stroke-width="1.3" stroke-dasharray="2.4 1.2"/>
<text x="486.90" y="162.66" font-size="6.55" font-weight="bold" font-style="italic" text-anchor="start" fill="#4d4d4d" stroke="#4d4d4d" stroke-width="0.1">MAH_Untreated</text>
<line x1="475.80" y1="170.10" x2="485.50" y2="170.10" stroke="#b8682f" stroke-width="1.6"/>
<text x="486.90" y="172.46" font-size="6.55" font-weight="bold" font-style="italic" text-anchor="start" fill="#4d4d4d" stroke="#4d4d4d" stroke-width="0.1">MAH_H2O</text>
<line x1="475.80" y1="179.90" x2="485.50" y2="179.90" stroke="#a3a3a3" stroke-width="1.6"/>
<text x="486.90" y="182.26" font-size="6.55" font-weight="bold" font-style="italic" text-anchor="start" fill="#4d4d4d" stroke="#4d4d4d" stroke-width="0.1">MAH_Ace</text>
<line x1="475.80" y1="189.70" x2="485.50" y2="189.70" stroke="#ffef00" stroke-width="1.6"/>
<text x="486.90" y="192.06" font-size="6.55" font-weight="bold" font-style="italic" text-anchor="start" fill="#4d4d4d" stroke="#4d4d4d" stroke-width="0.1">MAH_For</text>
<line x1="475.80" y1="199.50" x2="485.50" y2="199.50" stroke="#3ab4ee" stroke-width="1.6"/>
<text x="486.90" y="201.86" font-size="6.55" font-weight="bold" font-style="italic" text-anchor="start" fill="#4d4d4d" stroke="#4d4d4d" stroke-width="0.1">MAH_3M_HCl</text>
<line x1="475.80" y1="209.30" x2="485.50" y2="209.30" stroke="#14a84a" stroke-width="1.6"/>
<text x="486.90" y="211.66" font-size="6.55" font-weight="bold" font-style="italic" text-anchor="start" fill="#4d4d4d" stroke="#4d4d4d" stroke-width="0.1">MAH_5M_HCl</text>
<line x1="475.80" y1="219.10" x2="485.50" y2="219.10" stroke="#ff1a1a" stroke-width="1.6"/>
<text x="486.90" y="221.46" font-size="6.55" font-weight="bold" font-style="italic" text-anchor="start" fill="#4d4d4d" stroke="#4d4d4d" stroke-width="0.1">MAH_3M_H2SO4</text>
<line x1="475.80" y1="228.90" x2="485.50" y2="228.90" stroke="#7a3db8" stroke-width="1.6"/>
<text x="486.90" y="231.26" font-size="6.55" font-weight="bold" font-style="italic" text-anchor="start" fill="#4d4d4d" stroke="#4d4d4d" stroke-width="0.1">MAH_5M_H2SO4</text>
<path d="M317.00 278.20 C391.83 278.20 466.67 278.20 541.50 278.20" fill="none" stroke="#7a3db8" stroke-width="1.4" stroke-linejoin="round" stroke-linecap="round"/>
<path d="M317.00 275.00 C318.67 274.17 320.33 273.21 322.00 272.50 C324.20 271.56 326.40 270.30 328.60 270.30 C331.63 270.30 334.67 271.56 337.70 273.00 C340.13 274.15 342.57 276.99 345.00 277.50 C348.33 278.20 351.67 278.20 355.00 278.20 C365.00 278.20 375.00 278.20 385.00 278.00 C387.27 277.95 389.53 277.51 391.80 276.50 C395.43 274.88 399.07 271.84 402.70 267.70 C404.53 265.61 406.37 262.89 408.20 260.50 C410.00 258.16 411.80 255.16 413.60 253.50 C415.43 251.81 417.27 251.25 419.10 250.50 C420.90 249.76 422.70 249.90 424.50 249.00 C426.33 248.08 428.17 246.69 430.00 245.00 C432.93 242.30 435.87 245.00 438.80 234.20 C439.80 230.52 440.80 221.32 441.80 214.40 C442.80 207.48 443.80 197.38 444.80 192.70 C445.07 191.45 445.33 189.50 445.60 189.50 C446.07 189.50 446.53 191.48 447.00 195.00 C447.83 201.29 448.67 218.83 449.50 230.00 C450.33 241.17 451.17 255.33 452.00 262.00 C453.00 270.00 454.00 269.37 455.00 270.00 C459.10 272.60 463.20 271.86 467.30 272.60 C473.03 273.64 478.77 274.44 484.50 275.00 C502.93 276.80 521.37 276.20 539.80 276.80" fill="none" stroke="#000" stroke-width="1.2" stroke-linejoin="round" stroke-linecap="butt" stroke-dasharray="3 1.2"/>
<path d="M317.00 276.00 C320.57 275.17 324.13 273.50 327.70 273.50 C331.80 273.50 335.90 275.58 340.00 276.50 C342.67 277.10 345.33 278.20 348.00 278.20 C360.33 278.20 372.67 278.20 385.00 278.00 C387.27 277.96 389.53 277.75 391.80 276.80 C395.43 275.28 399.07 272.06 402.70 268.00 C404.53 265.95 406.37 263.36 408.20 261.00 C410.00 258.69 411.80 255.66 413.60 254.00 C415.43 252.31 417.27 251.75 419.10 251.00 C420.90 250.26 422.70 250.32 424.50 249.50 C426.33 248.67 428.17 247.64 430.00 246.00 C432.93 243.38 435.87 246.00 438.80 234.50 C439.80 230.58 440.80 221.75 441.80 215.00 C442.80 208.25 443.80 198.78 444.80 194.00 C445.30 191.61 445.80 188.50 446.30 188.50 C447.10 188.50 447.90 205.47 448.70 214.40 C449.30 221.10 449.90 228.77 450.50 235.00 C451.23 242.62 451.97 248.62 452.70 255.00 C453.13 258.77 453.57 264.05 454.00 266.00 C455.00 270.50 456.00 269.89 457.00 270.50 C460.43 272.60 463.87 271.98 467.30 272.60 C473.03 273.63 478.77 274.44 484.50 275.00 C502.93 276.80 521.37 276.20 539.80 276.80" fill="none" stroke="#b8682f" stroke-width="1.3" stroke-linejoin="round" stroke-linecap="round"/>
<path d="M317.00 276.00 C320.57 275.30 324.13 273.90 327.70 273.90 C331.80 273.90 335.90 275.98 340.00 276.80 C342.67 277.33 345.33 278.20 348.00 278.20 C360.33 278.20 372.67 278.20 385.00 278.00 C387.27 277.96 389.53 277.95 391.80 277.00 C395.43 275.48 399.07 272.08 402.70 267.70 C404.53 265.49 406.37 262.91 408.20 260.10 C410.00 257.34 411.80 253.91 413.60 251.00 C414.33 249.81 415.07 247.50 415.80 247.50 C416.90 247.50 418.00 248.80 419.10 248.80 C420.90 248.80 422.70 248.11 424.50 247.00 C426.33 245.87 428.17 245.68 430.00 242.00 C430.97 240.06 431.93 238.26 432.90 234.50 C433.90 230.61 434.90 225.55 435.90 218.80 C436.87 212.28 437.83 201.45 438.80 195.00 C440.33 184.77 441.87 175.50 443.40 175.50 C444.20 175.50 445.00 186.51 445.80 195.00 C446.77 205.26 447.73 223.26 448.70 234.50 C449.37 242.25 450.03 249.62 450.70 255.00 C451.30 259.84 451.90 263.94 452.50 266.00 C453.67 270.00 454.83 269.07 456.00 270.00 C459.77 273.00 463.53 272.18 467.30 273.00 C473.03 274.25 478.77 275.03 484.50 275.50 C502.93 277.00 521.37 276.50 539.80 277.00" fill="none" stroke="#a3a3a3" stroke-width="1.3" stroke-linejoin="round" stroke-linecap="round"/>
<path d="M317.00 277.00 C320.57 276.33 324.13 275.00 327.70 275.00 C331.80 275.00 335.90 276.95 340.00 277.50 C342.67 277.85 345.33 278.20 348.00 278.20 C360.33 278.20 372.67 278.20 385.00 278.00 C387.27 277.96 389.53 277.95 391.80 277.00 C395.43 275.48 399.07 272.08 402.70 267.70 C404.53 265.49 406.37 262.85 408.20 260.10 C410.00 257.40 411.80 254.16 413.60 251.40 C414.33 250.28 415.07 248.10 415.80 248.10 C416.90 248.10 418.00 249.20 419.10 249.20 C420.90 249.20 422.70 248.26 424.50 247.00 C426.33 245.71 428.17 245.15 430.00 241.50 C430.97 239.57 431.93 237.94 432.90 234.20 C433.90 230.33 434.90 225.14 435.90 218.40 C436.87 211.88 437.83 201.24 438.80 194.70 C440.33 184.33 441.87 173.90 443.40 173.90 C444.20 173.90 445.00 185.97 445.80 194.70 C446.77 205.25 447.73 222.88 448.70 234.20 C449.37 242.01 450.03 249.57 450.70 255.00 C451.30 259.89 451.90 263.94 452.50 266.00 C453.67 270.00 454.83 268.92 456.00 270.00 C459.77 273.50 463.53 272.58 467.30 273.50 C473.03 274.90 478.77 275.60 484.50 276.00 C502.93 277.30 521.37 276.87 539.80 277.30" fill="none" stroke="#ffef00" stroke-width="1.3" stroke-linejoin="round" stroke-linecap="round"/>
<path d="M317.00 274.80 C320.57 274.03 324.13 272.50 327.70 272.50 C332.80 272.50 337.90 275.93 343.00 277.00 C345.33 277.49 347.67 278.20 350.00 278.20 C356.67 278.20 363.33 278.20 370.00 277.80 C373.63 277.58 377.27 277.20 380.90 276.50 C383.80 275.94 386.70 275.30 389.60 274.30 C392.17 273.41 394.73 272.94 397.30 271.00 C400.20 268.81 403.10 264.17 406.00 261.20 C408.53 258.61 411.07 255.86 413.60 254.10 C417.23 251.58 420.87 252.17 424.50 250.30 C426.33 249.35 428.17 250.30 430.00 247.00 C431.30 244.66 432.60 241.51 433.90 236.00 C434.90 231.76 435.90 226.83 436.90 220.00 C437.87 213.40 438.83 202.37 439.80 196.00 C441.00 188.09 442.20 179.80 443.40 179.80 C444.53 179.80 445.67 193.92 446.80 204.00 C447.77 212.60 448.73 224.14 449.70 234.20 C450.37 241.14 451.03 249.57 451.70 255.00 C452.30 259.89 452.90 263.69 453.50 266.00 C454.67 270.50 455.83 269.65 457.00 270.50 C460.43 273.00 463.87 272.29 467.30 273.00 C473.03 274.18 478.77 275.03 484.50 275.50 C502.93 277.00 521.37 276.50 539.80 277.00" fill="none" stroke="#3ab4ee" stroke-width="1.3" stroke-linejoin="round" stroke-linecap="round"/>
<path d="M317.00 273.80 C320.57 272.93 324.13 271.20 327.70 271.20 C332.57 271.20 337.43 275.32 342.30 276.60 C344.87 277.28 347.43 278.20 350.00 278.20 C360.00 278.20 370.00 278.20 380.00 277.80 C382.13 277.71 384.27 277.46 386.40 277.00 C388.20 276.61 390.00 276.20 391.80 275.40 C393.63 274.58 395.47 273.59 397.30 272.10 C399.10 270.64 400.90 268.58 402.70 266.60 C404.53 264.58 406.37 261.74 408.20 260.10 C410.00 258.49 411.80 257.53 413.60 256.80 C415.43 256.05 417.27 256.26 419.10 255.70 C420.90 255.15 422.70 254.57 424.50 253.50 C426.33 252.41 428.17 253.37 430.00 249.20 C431.30 246.24 432.60 241.95 433.90 236.20 C434.90 231.77 435.90 227.16 436.90 220.40 C437.87 213.86 438.83 202.77 439.80 196.60 C441.00 188.94 442.20 181.80 443.40 181.80 C444.53 181.80 445.67 194.75 446.80 204.50 C447.77 212.81 448.73 224.21 449.70 234.20 C450.37 241.09 451.03 249.47 451.70 255.00 C452.30 259.97 452.90 264.70 453.50 266.50 C455.00 271.00 456.50 270.23 458.00 271.00 C461.10 272.60 464.20 272.09 467.30 272.60 C473.03 273.54 478.77 274.64 484.50 275.20 C502.93 277.00 521.37 276.40 539.80 277.00" fill="none" stroke="#14a84a" stroke-width="1.3" stroke-linejoin="round" stroke-linecap="round"/>
<path d="M317.00 277.00 C319.33 276.73 321.67 276.20 324.00 276.20 C327.00 276.20 330.00 277.30 333.00 277.50 C340.33 278.00 347.67 278.00 355.00 278.00 C357.67 278.00 360.33 276.50 363.00 275.00 C365.33 273.69 367.67 271.93 370.00 269.90 C371.83 268.30 373.67 266.15 375.50 264.50 C377.30 262.88 379.10 261.20 380.90 260.10 C382.73 258.98 384.57 258.35 386.40 257.90 C388.20 257.46 390.00 257.40 391.80 257.40 C394.37 257.40 396.93 257.59 399.50 257.90 C402.40 258.25 405.30 258.91 408.20 259.50 C410.73 260.02 413.27 260.83 415.80 261.20 C418.70 261.62 421.60 261.70 424.50 261.70 C426.93 261.70 429.37 260.50 431.80 260.50 C436.27 260.50 440.73 262.12 445.20 263.00 C449.67 263.88 454.13 264.90 458.60 265.80 C461.50 266.38 464.40 266.83 467.30 267.50 C473.03 268.82 478.77 271.39 484.50 272.60 C493.13 274.42 501.77 274.19 510.40 274.70 C520.20 275.28 530.00 275.37 539.80 275.70" fill="none" stroke="#ff1a1a" stroke-width="1.3" stroke-linejoin="round" stroke-linecap="round"/>
<path d="M317.00 277.50 C320.57 276.90 324.13 275.70 327.70 275.70 C331.80 275.70 335.90 277.18 340.00 277.50 C346.33 278.00 352.67 278.00 359.00 278.00 C360.67 278.00 362.33 276.38 364.00 275.50 C366.00 274.44 368.00 273.26 370.00 272.10 C373.63 269.99 377.27 267.23 380.90 265.50 C384.53 263.77 388.17 262.87 391.80 261.70 C395.43 260.53 399.07 259.77 402.70 258.50 C406.33 257.23 409.97 255.78 413.60 254.10 C415.43 253.25 417.27 252.17 419.10 251.40 C420.90 250.64 422.70 250.00 424.50 249.50 C425.83 249.13 427.17 248.60 428.50 248.60 C430.50 248.60 432.50 250.79 434.50 252.50 C437.17 254.78 439.83 259.28 442.50 261.50 C445.17 263.72 447.83 264.86 450.50 265.80 C453.80 266.96 457.10 266.46 460.40 267.00 C468.43 268.32 476.47 272.41 484.50 273.50 C502.93 276.00 521.37 275.17 539.80 276.00" fill="none" stroke="#7a3db8" stroke-width="1.3" stroke-linejoin="round" stroke-linecap="round"/>
<line x1="29.00" y1="316.90" x2="29.00" y2="426.30" stroke="#7f7f7f" stroke-width="1.5"/>
<line x1="29.00" y1="426.30" x2="251.50" y2="426.30" stroke="#7f7f7f" stroke-width="1.5"/>
<line x1="26.80" y1="316.90" x2="29.00" y2="316.90" stroke="#7f7f7f" stroke-width="1.2"/>
<line x1="26.80" y1="338.78" x2="29.00" y2="338.78" stroke="#7f7f7f" stroke-width="1.2"/>
<line x1="26.80" y1="360.66" x2="29.00" y2="360.66" stroke="#7f7f7f" stroke-width="1.2"/>
<line x1="26.80" y1="382.54" x2="29.00" y2="382.54" stroke="#7f7f7f" stroke-width="1.2"/>
<line x1="26.80" y1="404.42" x2="29.00" y2="404.42" stroke="#7f7f7f" stroke-width="1.2"/>
<line x1="26.80" y1="426.30" x2="29.00" y2="426.30" stroke="#7f7f7f" stroke-width="1.2"/>
<line x1="29.00" y1="426.30" x2="29.00" y2="428.50" stroke="#7f7f7f" stroke-width="1.2"/>
<line x1="49.23" y1="426.30" x2="49.23" y2="428.50" stroke="#7f7f7f" stroke-width="1.2"/>
<line x1="69.45" y1="426.30" x2="69.45" y2="428.50" stroke="#7f7f7f" stroke-width="1.2"/>
<line x1="89.68" y1="426.30" x2="89.68" y2="428.50" stroke="#7f7f7f" stroke-width="1.2"/>
<line x1="109.91" y1="426.30" x2="109.91" y2="428.50" stroke="#7f7f7f" stroke-width="1.2"/>
<line x1="130.14" y1="426.30" x2="130.14" y2="428.50" stroke="#7f7f7f" stroke-width="1.2"/>
<line x1="150.36" y1="426.30" x2="150.36" y2="428.50" stroke="#7f7f7f" stroke-width="1.2"/>
<line x1="170.59" y1="426.30" x2="170.59" y2="428.50" stroke="#7f7f7f" stroke-width="1.2"/>
<line x1="190.82" y1="426.30" x2="190.82" y2="428.50" stroke="#7f7f7f" stroke-width="1.2"/>
<line x1="211.05" y1="426.30" x2="211.05" y2="428.50" stroke="#7f7f7f" stroke-width="1.2"/>
<line x1="231.27" y1="426.30" x2="231.27" y2="428.50" stroke="#7f7f7f" stroke-width="1.2"/>
<line x1="251.50" y1="426.30" x2="251.50" y2="428.50" stroke="#7f7f7f" stroke-width="1.2"/>
<text x="22.80" y="319.28" font-size="6.6" font-weight="bold" font-style="normal" text-anchor="end" fill="#1a1a1a" stroke="#1a1a1a" stroke-width="0.2">110</text>
<text x="22.80" y="341.16" font-size="6.6" font-weight="bold" font-style="normal" text-anchor="end" fill="#1a1a1a" stroke="#1a1a1a" stroke-width="0.2">90</text>
<text x="22.80" y="363.04" font-size="6.6" font-weight="bold" font-style="normal" text-anchor="end" fill="#1a1a1a" stroke="#1a1a1a" stroke-width="0.2">70</text>
<text x="22.80" y="384.92" font-size="6.6" font-weight="bold" font-style="normal" text-anchor="end" fill="#1a1a1a" stroke="#1a1a1a" stroke-width="0.2">50</text>
<text x="22.80" y="406.80" font-size="6.6" font-weight="bold" font-style="normal" text-anchor="end" fill="#1a1a1a" stroke="#1a1a1a" stroke-width="0.2">30</text>
<text x="22.80" y="428.68" font-size="6.6" font-weight="bold" font-style="normal" text-anchor="end" fill="#1a1a1a" stroke="#1a1a1a" stroke-width="0.2">10</text>
<text x="29.00" y="436.98" font-size="6.6" font-weight="bold" font-style="normal" text-anchor="middle" fill="#1a1a1a" stroke="#1a1a1a" stroke-width="0.2">50</text>
<text x="49.23" y="436.98" font-size="6.6" font-weight="bold" font-style="normal" text-anchor="middle" fill="#1a1a1a" stroke="#1a1a1a" stroke-width="0.2">100</text>
<text x="69.45" y="436.98" font-size="6.6" font-weight="bold" font-style="normal" text-anchor="middle" fill="#1a1a1a" stroke="#1a1a1a" stroke-width="0.2">150</text>
<text x="89.68" y="436.98" font-size="6.6" font-weight="bold" font-style="normal" text-anchor="middle" fill="#1a1a1a" stroke="#1a1a1a" stroke-width="0.2">200</text>
<text x="109.91" y="436.98" font-size="6.6" font-weight="bold" font-style="normal" text-anchor="middle" fill="#1a1a1a" stroke="#1a1a1a" stroke-width="0.2">250</text>
<text x="130.14" y="436.98" font-size="6.6" font-weight="bold" font-style="normal" text-anchor="middle" fill="#1a1a1a" stroke="#1a1a1a" stroke-width="0.2">300</text>
<text x="150.36" y="436.98" font-size="6.6" font-weight="bold" font-style="normal" text-anchor="middle" fill="#1a1a1a" stroke="#1a1a1a" stroke-width="0.2">350</text>
<text x="170.59" y="436.98" font-size="6.6" font-weight="bold" font-style="normal" text-anchor="middle" fill="#1a1a1a" stroke="#1a1a1a" stroke-width="0.2">400</text>
<text x="190.82" y="436.98" font-size="6.6" font-weight="bold" font-style="normal" text-anchor="middle" fill="#1a1a1a" stroke="#1a1a1a" stroke-width="0.2">450</text>
<text x="211.05" y="436.98" font-size="6.6" font-weight="bold" font-style="normal" text-anchor="middle" fill="#1a1a1a" stroke="#1a1a1a" stroke-width="0.2">500</text>
<text x="231.27" y="436.98" font-size="6.6" font-weight="bold" font-style="normal" text-anchor="middle" fill="#1a1a1a" stroke="#1a1a1a" stroke-width="0.2">550</text>
<text x="251.50" y="436.98" font-size="6.6" font-weight="bold" font-style="normal" text-anchor="middle" fill="#1a1a1a" stroke="#1a1a1a" stroke-width="0.2">600</text>
<text x="8.90" y="369.00" font-size="7.6" font-weight="bold" font-style="normal" text-anchor="middle" fill="#1a1a1a" stroke="#1a1a1a" stroke-width="0.2" transform="rotate(-90 8.90 369.00)" textLength="41" lengthAdjust="spacingAndGlyphs">Weight (%)</text>
<text x="153.80" y="449.60" font-size="7.9" font-weight="bold" font-style="normal" text-anchor="middle" fill="#1a1a1a" stroke="#1a1a1a" stroke-width="0.2">Temperature (°C)</text>
<text x="135.30" y="316.60" font-size="9.5" font-weight="bold" font-style="italic" text-anchor="middle" fill="#111" stroke="#111" stroke-width="0.05" textLength="19.4" lengthAdjust="spacingAndGlyphs">TGA</text>
<text x="31.30" y="323.30" font-size="13.2" font-weight="bold" font-style="normal" text-anchor="start" fill="#111" stroke="#111" stroke-width="0.2">e</text>
<line x1="192.00" y1="312.40" x2="201.20" y2="312.40" stroke="#000" stroke-width="1.3" stroke-dasharray="2.4 1.2"/>
<text x="202.30" y="314.74" font-size="6.5" font-weight="bold" font-style="italic" text-anchor="start" fill="#4d4d4d" stroke="#4d4d4d" stroke-width="0.1">IRO_Untreated</text>
<line x1="192.00" y1="320.07" x2="201.20" y2="320.07" stroke="#8e4a4a" stroke-width="1.6"/>
<text x="202.30" y="322.41" font-size="6.5" font-weight="bold" font-style="italic" text-anchor="start" fill="#4d4d4d" stroke="#4d4d4d" stroke-width="0.1">IRO_H2O</text>
<line x1="192.00" y1="327.74" x2="201.20" y2="327.74" stroke="#9090a0" stroke-width="1.6"/>
<text x="202.30" y="330.08" font-size="6.5" font-weight="bold" font-style="italic" text-anchor="start" fill="#4d4d4d" stroke="#4d4d4d" stroke-width="0.1">IRO_Ace</text>
<line x1="192.00" y1="335.41" x2="201.20" y2="335.41" stroke="#ffef00" stroke-width="1.6"/>
<text x="202.30" y="337.75" font-size="6.5" font-weight="bold" font-style="italic" text-anchor="start" fill="#4d4d4d" stroke="#4d4d4d" stroke-width="0.1">IRO_For</text>
<line x1="192.00" y1="343.08" x2="201.20" y2="343.08" stroke="#5ab4d6" stroke-width="1.6"/>
<text x="202.30" y="345.42" font-size="6.5" font-weight="bold" font-style="italic" text-anchor="start" fill="#4d4d4d" stroke="#4d4d4d" stroke-width="0.1">IRO_3M_HCl</text>
<line x1="192.00" y1="350.75" x2="201.20" y2="350.75" stroke="#10a050" stroke-width="1.6"/>
<text x="202.30" y="353.09" font-size="6.5" font-weight="bold" font-style="italic" text-anchor="start" fill="#4d4d4d" stroke="#4d4d4d" stroke-width="0.1">IRO_5M_HCl</text>
<line x1="192.00" y1="358.42" x2="201.20" y2="358.42" stroke="#ff1a1a" stroke-width="1.6"/>
<text x="202.30" y="360.76" font-size="6.5" font-weight="bold" font-style="italic" text-anchor="start" fill="#4d4d4d" stroke="#4d4d4d" stroke-width="0.1">IRO_3M_H2SO4</text>
<line x1="192.00" y1="366.09" x2="201.20" y2="366.09" stroke="#7030a8" stroke-width="1.6"/>
<text x="202.30" y="368.43" font-size="6.5" font-weight="bold" font-style="italic" text-anchor="start" fill="#4d4d4d" stroke="#4d4d4d" stroke-width="0.1">IRO_5M_H2SO4</text>
<path d="M30.00 327.60 C36.67 328.70 43.33 330.61 50.00 330.90 C61.67 331.40 73.33 330.90 85.00 331.40 C91.07 331.66 97.13 332.02 103.20 333.50 C106.23 334.24 109.27 334.93 112.30 336.30 C115.33 337.67 118.37 339.82 121.40 341.70 C124.43 343.58 127.47 345.51 130.50 347.60 C132.00 348.64 133.50 349.53 135.00 350.80 C137.00 352.50 139.00 355.12 141.00 357.00 C142.33 358.25 143.67 358.33 145.00 360.50 C146.33 362.67 147.67 366.60 149.00 370.00 C150.43 373.66 151.87 378.88 153.30 381.80 C154.90 385.06 156.50 386.21 158.10 387.80 C162.13 391.81 166.17 390.77 170.20 392.00 C180.13 395.04 190.07 396.39 200.00 398.10 C217.13 401.04 234.27 402.03 251.40 404.00" fill="none" stroke="#000" stroke-width="1.2" stroke-linejoin="round" stroke-linecap="butt" stroke-dasharray="3 1.2"/>
<path d="M30.00 327.60 C36.67 328.70 43.33 330.61 50.00 330.90 C61.67 331.40 73.33 330.90 85.00 331.40 C91.07 331.66 97.13 331.84 103.20 333.30 C106.23 334.03 109.27 334.73 112.30 336.10 C115.33 337.47 118.37 339.62 121.40 341.50 C124.43 343.38 127.47 345.31 130.50 347.40 C132.00 348.44 133.50 349.27 135.00 350.60 C136.67 352.08 138.33 354.17 140.00 356.00 C141.20 357.32 142.40 358.19 143.60 360.00 C145.63 363.07 147.67 368.19 149.70 373.30 C151.30 377.32 152.90 383.08 154.50 386.60 C156.13 390.19 157.77 392.89 159.40 394.50 C161.00 396.08 162.60 395.78 164.20 396.30 C168.23 397.61 172.27 397.89 176.30 398.70 C184.20 400.28 192.10 402.17 200.00 403.50 C217.13 406.38 234.27 406.70 251.40 408.30" fill="none" stroke="#8e4a4a" stroke-width="1.3" stroke-linejoin="round" stroke-linecap="round"/>
<path d="M30.00 327.60 C36.67 329.07 43.33 331.18 50.00 332.00 C57.33 332.90 64.67 332.72 72.00 332.90 C77.33 333.03 82.67 333.03 88.00 333.10 C93.07 333.17 98.13 333.10 103.20 333.30 C106.23 333.42 109.27 334.23 112.30 335.50 C115.33 336.77 118.37 339.02 121.40 340.90 C124.43 342.78 127.47 344.71 130.50 346.80 C132.00 347.84 133.50 348.75 135.00 350.00 C137.00 351.67 139.00 353.93 141.00 356.00 C142.67 357.72 144.33 359.00 146.00 361.30 C148.03 364.11 150.07 367.65 152.10 372.10 C153.70 375.60 155.30 380.21 156.90 384.20 C158.53 388.28 160.17 393.44 161.80 396.30 C163.40 399.10 165.00 400.06 166.60 401.30 C169.83 403.80 173.07 403.01 176.30 403.80 C184.20 405.73 192.10 407.46 200.00 408.80 C217.13 411.72 234.27 411.60 251.40 413.00" fill="none" stroke="#ffef00" stroke-width="1.3" stroke-linejoin="round" stroke-linecap="round"/>
<path d="M30.00 327.60 C36.67 328.70 43.33 330.61 50.00 330.90 C61.67 331.40 73.33 330.90 85.00 331.40 C91.07 331.66 97.13 331.40 103.20 332.70 C106.23 333.35 109.27 334.13 112.30 335.50 C115.33 336.87 118.37 339.02 121.40 340.90 C124.43 342.78 127.47 344.71 130.50 346.80 C132.00 347.84 133.50 348.75 135.00 350.00 C137.00 351.67 139.00 353.93 141.00 356.00 C142.67 357.72 144.33 359.00 146.00 361.30 C148.03 364.11 150.07 367.65 152.10 372.10 C153.70 375.60 155.30 380.18 156.90 384.20 C158.53 388.31 160.17 393.61 161.80 396.50 C163.40 399.33 165.00 400.24 166.60 401.50 C169.83 404.05 173.07 403.36 176.30 404.20 C184.20 406.24 192.10 407.85 200.00 409.20 C217.13 412.13 234.27 412.07 251.40 413.50" fill="none" stroke="#5ab4d6" stroke-width="1.3" stroke-linejoin="round" stroke-linecap="round"/>
<path d="M30.00 327.60 C36.67 328.70 43.33 330.61 50.00 330.90 C61.67 331.40 73.33 330.90 85.00 331.40 C91.07 331.66 97.13 331.40 103.20 332.70 C106.23 333.35 109.27 334.13 112.30 335.50 C115.33 336.87 118.37 339.02 121.40 340.90 C124.43 342.78 127.47 344.71 130.50 346.80 C132.00 347.84 133.50 348.75 135.00 350.00 C137.00 351.67 139.00 353.93 141.00 356.00 C142.67 357.72 144.33 359.00 146.00 361.30 C148.03 364.11 150.07 367.65 152.10 372.10 C153.70 375.60 155.30 380.21 156.90 384.20 C158.53 388.28 160.17 393.48 161.80 396.30 C163.40 399.06 165.00 399.91 166.60 401.10 C169.83 403.50 173.07 402.74 176.30 403.50 C184.20 405.36 192.10 407.07 200.00 408.40 C217.13 411.28 234.27 411.27 251.40 412.70" fill="none" stroke="#10a050" stroke-width="1.3" stroke-linejoin="round" stroke-linecap="round"/>
<path d="M30.00 327.60 C36.60 328.27 43.20 329.16 49.80 329.60 C57.07 330.08 64.33 329.60 71.60 330.20 C76.07 330.57 80.53 330.70 85.00 332.30 C88.03 333.39 91.07 334.98 94.10 336.80 C97.13 338.62 100.17 341.15 103.20 343.20 C106.23 345.25 109.27 347.28 112.30 349.10 C115.33 350.92 118.37 352.52 121.40 354.10 C124.43 355.68 127.47 356.93 130.50 358.60 C132.00 359.43 133.50 360.37 135.00 361.20 C136.67 362.12 138.33 362.90 140.00 363.80 C144.03 365.97 148.07 368.42 152.10 370.80 C156.13 373.18 160.17 375.97 164.20 378.10 C168.23 380.23 172.27 381.98 176.30 383.60 C180.33 385.22 184.37 386.69 188.40 387.80 C192.27 388.87 196.13 389.42 200.00 390.20 C205.60 391.33 211.20 392.53 216.80 393.50 C228.33 395.49 239.87 396.37 251.40 397.80" fill="none" stroke="#ff1a1a" stroke-width="1.3" stroke-linejoin="round" stroke-linecap="round"/>
<path d="M30.00 327.60 C36.60 328.27 43.20 329.24 49.80 329.60 C57.07 330.00 64.33 329.60 71.60 330.00 C76.07 330.25 80.53 330.57 85.00 331.40 C88.03 331.96 91.07 332.40 94.10 333.60 C97.13 334.80 100.17 336.70 103.20 338.60 C106.23 340.50 109.27 342.72 112.30 345.00 C115.33 347.28 118.37 349.95 121.40 352.30 C124.43 354.65 127.47 356.91 130.50 359.10 C132.00 360.18 133.50 360.94 135.00 362.30 C136.67 363.81 138.33 366.05 140.00 367.90 C142.00 370.12 144.00 372.40 146.00 374.50 C148.03 376.64 150.07 378.77 152.10 380.60 C154.10 382.40 156.10 384.03 158.10 385.40 C162.13 388.15 166.17 389.28 170.20 390.80 C174.23 392.32 178.27 393.38 182.30 394.50 C188.20 396.14 194.10 397.60 200.00 398.70 C205.60 399.74 211.20 400.30 216.80 401.00 C228.33 402.44 239.87 403.33 251.40 404.50" fill="none" stroke="#7030a8" stroke-width="1.3" stroke-linejoin="round" stroke-linecap="round"/>
<line x1="313.10" y1="317.40" x2="313.10" y2="429.50" stroke="#7f7f7f" stroke-width="1.5"/>
<line x1="313.10" y1="429.50" x2="539.80" y2="429.50" stroke="#7f7f7f" stroke-width="1.5"/>
<line x1="310.90" y1="317.40" x2="313.10" y2="317.40" stroke="#7f7f7f" stroke-width="1.2"/>
<line x1="310.90" y1="336.08" x2="313.10" y2="336.08" stroke="#7f7f7f" stroke-width="1.2"/>
<line x1="310.90" y1="354.77" x2="313.10" y2="354.77" stroke="#7f7f7f" stroke-width="1.2"/>
<line x1="310.90" y1="373.45" x2="313.10" y2="373.45" stroke="#7f7f7f" stroke-width="1.2"/>
<line x1="310.90" y1="392.13" x2="313.10" y2="392.13" stroke="#7f7f7f" stroke-width="1.2"/>
<line x1="310.90" y1="410.82" x2="313.10" y2="410.82" stroke="#7f7f7f" stroke-width="1.2"/>
<line x1="310.90" y1="429.50" x2="313.10" y2="429.50" stroke="#7f7f7f" stroke-width="1.2"/>
<line x1="313.10" y1="429.50" x2="313.10" y2="431.70" stroke="#7f7f7f" stroke-width="1.2"/>
<line x1="333.71" y1="429.50" x2="333.71" y2="431.70" stroke="#7f7f7f" stroke-width="1.2"/>
<line x1="354.32" y1="429.50" x2="354.32" y2="431.70" stroke="#7f7f7f" stroke-width="1.2"/>
<line x1="374.93" y1="429.50" x2="374.93" y2="431.70" stroke="#7f7f7f" stroke-width="1.2"/>
<line x1="395.54" y1="429.50" x2="395.54" y2="431.70" stroke="#7f7f7f" stroke-width="1.2"/>
<line x1="416.15" y1="429.50" x2="416.15" y2="431.70" stroke="#7f7f7f" stroke-width="1.2"/>
<line x1="436.75" y1="429.50" x2="436.75" y2="431.70" stroke="#7f7f7f" stroke-width="1.2"/>
<line x1="457.36" y1="429.50" x2="457.36" y2="431.70" stroke="#7f7f7f" stroke-width="1.2"/>
<line x1="477.97" y1="429.50" x2="477.97" y2="431.70" stroke="#7f7f7f" stroke-width="1.2"/>
<line x1="498.58" y1="429.50" x2="498.58" y2="431.70" stroke="#7f7f7f" stroke-width="1.2"/>
<line x1="519.19" y1="429.50" x2="519.19" y2="431.70" stroke="#7f7f7f" stroke-width="1.2"/>
<line x1="539.80" y1="429.50" x2="539.80" y2="431.70" stroke="#7f7f7f" stroke-width="1.2"/>
<text x="307.10" y="319.78" font-size="6.6" font-weight="bold" font-style="normal" text-anchor="end" fill="#1a1a1a" stroke="#1a1a1a" stroke-width="0.2">12</text>
<text x="307.10" y="338.46" font-size="6.6" font-weight="bold" font-style="normal" text-anchor="end" fill="#1a1a1a" stroke="#1a1a1a" stroke-width="0.2">10</text>
<text x="307.10" y="357.14" font-size="6.6" font-weight="bold" font-style="normal" text-anchor="end" fill="#1a1a1a" stroke="#1a1a1a" stroke-width="0.2">8</text>
<text x="307.10" y="375.83" font-size="6.6" font-weight="bold" font-style="normal" text-anchor="end" fill="#1a1a1a" stroke="#1a1a1a" stroke-width="0.2">6</text>
<text x="307.10" y="394.51" font-size="6.6" font-weight="bold" font-style="normal" text-anchor="end" fill="#1a1a1a" stroke="#1a1a1a" stroke-width="0.2">4</text>
<text x="307.10" y="413.19" font-size="6.6" font-weight="bold" font-style="normal" text-anchor="end" fill="#1a1a1a" stroke="#1a1a1a" stroke-width="0.2">2</text>
<text x="307.10" y="431.88" font-size="6.6" font-weight="bold" font-style="normal" text-anchor="end" fill="#1a1a1a" stroke="#1a1a1a" stroke-width="0.2">0</text>
<text x="313.10" y="440.98" font-size="6.6" font-weight="bold" font-style="normal" text-anchor="middle" fill="#1a1a1a" stroke="#1a1a1a" stroke-width="0.2">50</text>
<text x="333.71" y="440.98" font-size="6.6" font-weight="bold" font-style="normal" text-anchor="middle" fill="#1a1a1a" stroke="#1a1a1a" stroke-width="0.2">100</text>
<text x="354.32" y="440.98" font-size="6.6" font-weight="bold" font-style="normal" text-anchor="middle" fill="#1a1a1a" stroke="#1a1a1a" stroke-width="0.2">150</text>
<text x="374.93" y="440.98" font-size="6.6" font-weight="bold" font-style="normal" text-anchor="middle" fill="#1a1a1a" stroke="#1a1a1a" stroke-width="0.2">200</text>
<text x="395.54" y="440.98" font-size="6.6" font-weight="bold" font-style="normal" text-anchor="middle" fill="#1a1a1a" stroke="#1a1a1a" stroke-width="0.2">250</text>
<text x="416.15" y="440.98" font-size="6.6" font-weight="bold" font-style="normal" text-anchor="middle" fill="#1a1a1a" stroke="#1a1a1a" stroke-width="0.2">300</text>
<text x="436.75" y="440.98" font-size="6.6" font-weight="bold" font-style="normal" text-anchor="middle" fill="#1a1a1a" stroke="#1a1a1a" stroke-width="0.2">350</text>
<text x="457.36" y="440.98" font-size="6.6" font-weight="bold" font-style="normal" text-anchor="middle" fill="#1a1a1a" stroke="#1a1a1a" stroke-width="0.2">400</text>
<text x="477.97" y="440.98" font-size="6.6" font-weight="bold" font-style="normal" text-anchor="middle" fill="#1a1a1a" stroke="#1a1a1a" stroke-width="0.2">450</text>
<text x="498.58" y="440.98" font-size="6.6" font-weight="bold" font-style="normal" text-anchor="middle" fill="#1a1a1a" stroke="#1a1a1a" stroke-width="0.2">500</text>
<text x="519.19" y="440.98" font-size="6.6" font-weight="bold" font-style="normal" text-anchor="middle" fill="#1a1a1a" stroke="#1a1a1a" stroke-width="0.2">550</text>
<text x="539.80" y="440.98" font-size="6.6" font-weight="bold" font-style="normal" text-anchor="middle" fill="#1a1a1a" stroke="#1a1a1a" stroke-width="0.2">600</text>
<text x="295.80" y="370.50" font-size="7.9" font-weight="bold" font-style="normal" text-anchor="middle" fill="#1a1a1a" stroke="#1a1a1a" stroke-width="0.2" transform="rotate(-90 295.80 370.50)" textLength="59.3" lengthAdjust="spacingAndGlyphs">-DTG (wt%/min)</text>
<text x="440.80" y="450.00" font-size="8.0" font-weight="bold" font-style="normal" text-anchor="middle" fill="#1a1a1a" stroke="#1a1a1a" stroke-width="0.2">Temperature (°C)</text>
<text x="421.95" y="315.60" font-size="10.2" font-weight="bold" font-style="italic" text-anchor="middle" fill="#111" stroke="#111" stroke-width="0.05" textLength="20.9" lengthAdjust="spacingAndGlyphs">DTG</text>
<text x="315.50" y="321.90" font-size="13.5" font-weight="bold" font-style="normal" text-anchor="start" fill="#111" stroke="#111" stroke-width="0.2">f</text>
<line x1="480.00" y1="312.20" x2="489.70" y2="312.20" stroke="#000" stroke-width="1.3" stroke-dasharray="2.4 1.2"/>
<text x="490.80" y="314.58" font-size="6.6" font-weight="bold" font-style="italic" text-anchor="start" fill="#4d4d4d" stroke="#4d4d4d" stroke-width="0.1">IRO_Untreated</text>
<line x1="480.00" y1="320.42" x2="489.70" y2="320.42" stroke="#b8682f" stroke-width="1.6"/>
<text x="490.80" y="322.80" font-size="6.6" font-weight="bold" font-style="italic" text-anchor="start" fill="#4d4d4d" stroke="#4d4d4d" stroke-width="0.1">IRO_H2O</text>
<line x1="480.00" y1="328.64" x2="489.70" y2="328.64" stroke="#a3a3a3" stroke-width="1.6"/>
<text x="490.80" y="331.02" font-size="6.6" font-weight="bold" font-style="italic" text-anchor="start" fill="#4d4d4d" stroke="#4d4d4d" stroke-width="0.1">IRO_Ace</text>
<line x1="480.00" y1="336.86" x2="489.70" y2="336.86" stroke="#ffef00" stroke-width="1.6"/>
<text x="490.80" y="339.24" font-size="6.6" font-weight="bold" font-style="italic" text-anchor="start" fill="#4d4d4d" stroke="#4d4d4d" stroke-width="0.1">IRO_For</text>
<line x1="480.00" y1="345.08" x2="489.70" y2="345.08" stroke="#3ab4ee" stroke-width="1.6"/>
<text x="490.80" y="347.46" font-size="6.6" font-weight="bold" font-style="italic" text-anchor="start" fill="#4d4d4d" stroke="#4d4d4d" stroke-width="0.1">IRO_3M_HCl</text>
<line x1="480.00" y1="353.30" x2="489.70" y2="353.30" stroke="#14a84a" stroke-width="1.6"/>
<text x="490.80" y="355.68" font-size="6.6" font-weight="bold" font-style="italic" text-anchor="start" fill="#4d4d4d" stroke="#4d4d4d" stroke-width="0.1">IRO_5M_HCl</text>
<line x1="480.00" y1="361.52" x2="489.70" y2="361.52" stroke="#ff1a1a" stroke-width="1.6"/>
<text x="490.80" y="363.90" font-size="6.6" font-weight="bold" font-style="italic" text-anchor="start" fill="#4d4d4d" stroke="#4d4d4d" stroke-width="0.1">IRO_3M_H2SO4</text>
<line x1="480.00" y1="369.74" x2="489.70" y2="369.74" stroke="#6a2ec0" stroke-width="1.6"/>
<text x="490.80" y="372.12" font-size="6.6" font-weight="bold" font-style="italic" text-anchor="start" fill="#4d4d4d" stroke="#4d4d4d" stroke-width="0.1">IRO_5M_H2SO4</text>
<path d="M313.10 429.20 C388.67 429.20 464.23 429.20 539.80 429.20" fill="none" stroke="#6a2ec0" stroke-width="1.4" stroke-linejoin="round" stroke-linecap="round"/>
<path d="M313.50 425.00 C316.27 423.67 319.03 421.00 321.80 421.00 C324.53 421.00 327.27 422.21 330.00 423.20 C333.33 424.41 336.67 427.06 340.00 428.00 C342.67 428.75 345.33 429.00 348.00 429.00 C360.33 429.00 372.67 429.00 385.00 428.50 C388.00 428.38 391.00 426.42 394.00 424.00 C397.00 421.58 400.00 417.43 403.00 414.00 C407.47 408.89 411.93 404.38 416.40 398.00 C420.10 392.72 423.80 389.29 427.50 380.00 C429.60 374.73 431.70 368.17 433.80 361.00 C435.03 356.79 436.27 347.50 437.50 347.50 C438.40 347.50 439.30 350.41 440.20 358.00 C440.73 362.50 441.27 370.22 441.80 375.80 C442.83 386.62 443.87 397.66 444.90 404.30 C445.43 407.73 445.97 410.10 446.50 412.30 C447.97 418.36 449.43 419.50 450.90 420.00 C455.00 421.40 459.10 420.98 463.20 421.40 C472.30 422.33 481.40 423.50 490.50 423.50 C492.30 423.50 494.10 423.50 495.90 423.20 C497.10 423.00 498.30 420.00 499.50 420.00 C500.73 420.00 501.97 422.86 503.20 423.20 C515.30 426.50 527.40 425.40 539.50 426.50" fill="none" stroke="#000" stroke-width="1.2" stroke-linejoin="round" stroke-linecap="butt" stroke-dasharray="3 1.2"/>
<path d="M313.50 424.50 C316.27 423.17 319.03 420.50 321.80 420.50 C324.53 420.50 327.27 421.93 330.00 423.00 C333.33 424.31 336.67 427.03 340.00 428.00 C342.67 428.78 345.33 429.00 348.00 429.00 C360.33 429.00 372.67 429.00 385.00 428.50 C388.00 428.38 391.00 426.42 394.00 424.00 C397.00 421.58 400.00 417.60 403.00 414.00 C405.90 410.52 408.80 406.71 411.70 402.80 C414.33 399.25 416.97 395.67 419.60 391.70 C422.23 387.73 424.87 385.30 427.50 379.00 C429.60 373.98 431.70 369.10 433.80 360.00 C434.87 355.38 435.93 348.16 437.00 344.00 C437.60 341.66 438.20 338.10 438.80 338.10 C439.53 338.10 440.27 341.61 441.00 345.00 C441.80 348.70 442.60 345.08 443.40 360.00 C443.90 369.32 444.40 390.87 444.90 399.60 C445.43 408.92 445.97 409.15 446.50 412.30 C447.57 418.60 448.63 417.94 449.70 418.60 C454.20 421.40 458.70 420.63 463.20 421.40 C472.30 422.95 481.40 423.28 490.50 424.00 C506.83 425.30 523.17 425.67 539.50 426.50" fill="none" stroke="#b8682f" stroke-width="1.3" stroke-linejoin="round" stroke-linecap="round"/>
<path d="M313.50 425.80 C316.33 424.80 319.17 422.80 322.00 422.80 C325.33 422.80 328.67 423.97 332.00 425.00 C335.00 425.93 338.00 428.00 341.00 428.50 C344.00 429.00 347.00 429.00 350.00 429.00 C361.67 429.00 373.33 429.00 385.00 428.60 C387.00 428.53 389.00 427.45 391.00 426.50 C395.27 424.47 399.53 422.28 403.80 417.00 C406.43 413.74 409.07 408.00 411.70 404.80 C414.87 400.95 418.03 400.00 421.20 397.00 C423.30 395.01 425.40 393.95 427.50 390.50 C430.13 386.18 432.77 383.42 435.40 371.50 C436.93 364.56 438.47 352.92 440.00 345.00 C441.17 338.97 442.33 330.18 443.50 328.50 C443.83 328.02 444.17 328.00 444.50 328.00 C445.30 328.00 446.10 340.75 446.90 350.20 C448.23 365.95 449.57 410.57 450.90 414.50 C452.70 419.80 454.50 419.64 456.30 419.80 C458.60 420.00 460.90 419.88 463.20 420.00 C472.30 420.48 481.40 422.98 490.50 424.00 C506.83 425.84 523.17 425.67 539.50 426.50" fill="none" stroke="#a3a3a3" stroke-width="1.3" stroke-linejoin="round" stroke-linecap="round"/>
<path d="M313.50 425.50 C316.33 424.43 319.17 422.30 322.00 422.30 C325.33 422.30 328.67 423.41 332.00 424.50 C335.00 425.48 338.00 427.60 341.00 428.30 C344.00 429.00 347.00 429.00 350.00 429.00 C361.67 429.00 373.33 429.00 385.00 428.60 C387.00 428.53 389.00 427.45 391.00 426.50 C395.27 424.47 399.53 422.45 403.80 417.00 C406.43 413.64 409.07 407.61 411.70 404.30 C414.87 400.32 418.03 399.38 421.20 396.40 C423.30 394.42 425.40 393.43 427.50 390.00 C430.13 385.70 432.77 382.74 435.40 371.00 C436.93 364.17 438.47 352.97 440.00 345.00 C441.17 338.93 442.33 329.71 443.50 328.00 C443.83 327.51 444.17 327.50 444.50 327.50 C445.30 327.50 446.10 340.65 446.90 350.20 C448.23 366.12 449.57 410.57 450.90 414.50 C452.70 419.80 454.50 419.64 456.30 419.80 C458.60 420.00 460.90 419.88 463.20 420.00 C472.30 420.48 481.40 422.98 490.50 424.00 C506.83 425.84 523.17 425.67 539.50 426.50" fill="none" stroke="#ffef00" stroke-width="1.3" stroke-linejoin="round" stroke-linecap="round"/>
<path d="M313.50 426.80 C316.33 426.20 319.17 425.00 322.00 425.00 C324.67 425.00 327.33 425.87 330.00 426.50 C332.67 427.13 335.33 428.60 338.00 428.80 C340.67 429.00 343.33 429.00 346.00 429.00 C346.67 429.00 347.33 429.00 348.00 429.00 C360.33 429.00 372.67 429.00 385.00 428.60 C388.60 428.48 392.20 424.91 395.80 421.50 C399.53 417.96 403.27 411.30 407.00 407.50 C411.20 403.23 415.40 401.67 419.60 398.00 C422.23 395.70 424.87 394.83 427.50 390.50 C430.13 386.17 432.77 384.04 435.40 372.00 C436.93 364.99 438.47 353.17 440.00 345.00 C441.17 338.79 442.33 329.82 443.50 327.80 C443.77 327.34 444.03 327.00 444.30 327.00 C445.17 327.00 446.03 340.02 446.90 350.20 C448.23 365.85 449.57 410.57 450.90 414.50 C452.70 419.80 454.50 419.80 456.30 419.80 C458.60 419.80 460.90 419.50 463.20 419.50 C472.30 419.50 481.40 422.87 490.50 424.00 C506.83 426.03 523.17 425.67 539.50 426.50" fill="none" stroke="#3ab4ee" stroke-width="1.3" stroke-linejoin="round" stroke-linecap="round"/>
<path d="M313.50 426.20 C316.33 425.50 319.17 424.10 322.00 424.10 C324.67 424.10 327.33 425.07 330.00 425.80 C332.67 426.53 335.33 428.00 338.00 428.50 C340.67 429.00 343.33 429.00 346.00 429.00 C346.67 429.00 347.33 429.00 348.00 429.00 C355.33 429.00 362.67 429.00 370.00 428.60 C373.33 428.42 376.67 427.31 380.00 426.50 C385.27 425.22 390.53 424.95 395.80 421.80 C401.10 418.63 406.40 412.53 411.70 407.50 C416.97 402.50 422.23 401.90 427.50 391.70 C430.13 386.60 432.77 381.96 435.40 372.70 C436.47 368.95 437.53 365.60 438.60 360.00 C440.03 352.47 441.47 335.71 442.90 330.00 C443.33 328.27 443.77 326.00 444.20 326.00 C445.10 326.00 446.00 339.55 446.90 350.20 C448.23 365.97 449.57 410.57 450.90 414.50 C452.70 419.80 454.50 419.80 456.30 419.80 C458.60 419.80 460.90 419.50 463.20 419.50 C472.30 419.50 481.40 422.87 490.50 424.00 C506.83 426.03 523.17 425.67 539.50 426.50" fill="none" stroke="#14a84a" stroke-width="1.3" stroke-linejoin="round" stroke-linecap="round"/>
<path d="M313.50 428.00 C315.67 427.47 317.83 426.40 320.00 426.40 C322.67 426.40 325.33 427.07 328.00 427.50 C330.67 427.93 333.33 429.00 336.00 429.00 C342.67 429.00 349.33 429.00 356.00 428.60 C358.00 428.48 360.00 427.57 362.00 426.00 C364.67 423.91 367.33 418.86 370.00 416.00 C373.33 412.43 376.67 409.42 380.00 407.50 C383.33 405.58 386.67 404.50 390.00 404.50 C392.00 404.50 394.00 404.54 396.00 405.00 C398.60 405.60 401.20 407.39 403.80 408.30 C406.43 409.22 409.07 409.90 411.70 410.50 C416.97 411.70 422.23 412.50 427.50 412.50 C431.73 412.50 435.97 411.00 440.20 411.00 C443.37 411.00 446.53 411.00 449.70 411.00 C451.47 411.00 453.23 413.85 455.00 414.50 C457.73 415.50 460.47 415.04 463.20 415.50 C469.27 416.53 475.33 419.02 481.40 420.50 C486.23 421.68 491.07 422.94 495.90 423.70 C503.17 424.84 510.43 424.62 517.70 425.00 C524.97 425.38 532.23 425.67 539.50 426.00" fill="none" stroke="#ff1a1a" stroke-width="1.3" stroke-linejoin="round" stroke-linecap="round"/>
<path d="M313.50 427.50 C315.67 426.97 317.83 425.90 320.00 425.90 C323.33 425.90 326.67 426.92 330.00 427.50 C332.67 427.97 335.33 429.00 338.00 429.00 C343.33 429.00 348.67 429.00 354.00 428.60 C356.67 428.40 359.33 426.94 362.00 426.00 C368.00 423.89 374.00 421.35 380.00 418.60 C385.27 416.19 390.53 413.85 395.80 410.70 C401.10 407.53 406.40 404.01 411.70 399.60 C414.33 397.41 416.97 393.73 419.60 392.50 C421.17 391.77 422.73 391.50 424.30 391.50 C426.97 391.50 429.63 393.17 432.30 394.80 C434.93 396.41 437.57 398.84 440.20 401.20 C443.37 404.04 446.53 408.18 449.70 410.70 C454.20 414.28 458.70 415.69 463.20 417.50 C469.27 419.94 475.33 420.96 481.40 422.30 C500.77 426.56 520.13 425.43 539.50 427.00" fill="none" stroke="#6a2ec0" stroke-width="1.3" stroke-linejoin="round" stroke-linecap="round"/>
</svg></body></html>
